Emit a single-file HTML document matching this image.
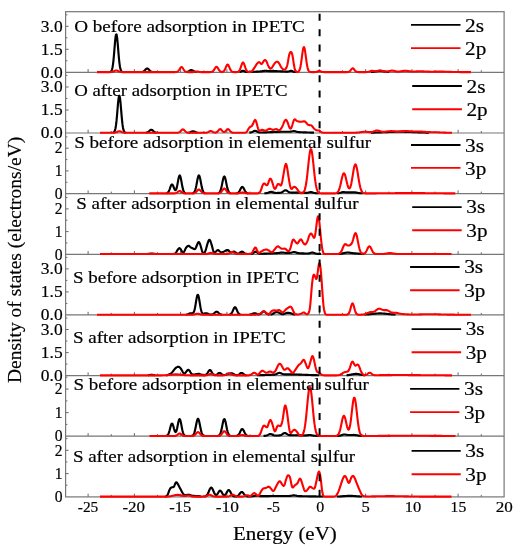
<!DOCTYPE html>
<html><head><meta charset="utf-8"><style>
html,body{margin:0;padding:0;background:#fff;width:522px;height:550px;overflow:hidden}
svg{display:block} text{font-family:"Liberation Serif", "Times New Roman", serif;fill:#000;stroke:#000;stroke-width:0.18px}
</style></head><body>
<svg width="522" height="550" viewBox="0 0 522 550">
<rect width="522" height="550" fill="#fff"/>
<path d="M88.1 72.3V69.1 M111.3 72.3V70.3 M134.4 72.3V69.1 M157.5 72.3V70.3 M180.6 72.3V69.1 M203.8 72.3V70.3 M226.9 72.3V69.1 M250.0 72.3V70.3 M273.1 72.3V69.1 M296.3 72.3V70.3 M319.4 72.3V69.1 M342.5 72.3V70.3 M365.6 72.3V69.1 M388.8 72.3V70.3 M411.9 72.3V69.1 M435.0 72.3V70.3 M458.1 72.3V69.1 M481.3 72.3V70.3 M65.6 60.8H67.4 M65.6 49.3H68.6 M65.6 37.8H67.4 M65.6 26.3H68.6 M65.6 14.8H67.4 M88.1 133.0V129.8 M111.3 133.0V131.0 M134.4 133.0V129.8 M157.5 133.0V131.0 M180.6 133.0V129.8 M203.8 133.0V131.0 M226.9 133.0V129.8 M250.0 133.0V131.0 M273.1 133.0V129.8 M296.3 133.0V131.0 M319.4 133.0V129.8 M342.5 133.0V131.0 M365.6 133.0V129.8 M388.8 133.0V131.0 M411.9 133.0V129.8 M435.0 133.0V131.0 M458.1 133.0V129.8 M481.3 133.0V131.0 M65.6 121.5H67.4 M65.6 110.0H68.6 M65.6 98.5H67.4 M65.6 87.0H68.6 M65.6 75.4H67.4 M88.1 193.6V190.4 M111.3 193.6V191.6 M134.4 193.6V190.4 M157.5 193.6V191.6 M180.6 193.6V190.4 M203.8 193.6V191.6 M226.9 193.6V190.4 M250.0 193.6V191.6 M273.1 193.6V190.4 M296.3 193.6V191.6 M319.4 193.6V190.4 M342.5 193.6V191.6 M365.6 193.6V190.4 M388.8 193.6V191.6 M411.9 193.6V190.4 M435.0 193.6V191.6 M458.1 193.6V190.4 M481.3 193.6V191.6 M65.6 182.3H67.4 M65.6 170.9H68.6 M65.6 159.6H67.4 M65.6 148.2H68.6 M65.6 136.9H67.4 M88.1 254.3V251.1 M111.3 254.3V252.3 M134.4 254.3V251.1 M157.5 254.3V252.3 M180.6 254.3V251.1 M203.8 254.3V252.3 M226.9 254.3V251.1 M250.0 254.3V252.3 M273.1 254.3V251.1 M296.3 254.3V252.3 M319.4 254.3V251.1 M342.5 254.3V252.3 M365.6 254.3V251.1 M388.8 254.3V252.3 M411.9 254.3V251.1 M435.0 254.3V252.3 M458.1 254.3V251.1 M481.3 254.3V252.3 M65.6 242.9H67.4 M65.6 231.6H68.6 M65.6 220.2H67.4 M65.6 208.9H68.6 M65.6 197.5H67.4 M88.1 314.9V311.8 M111.3 314.9V312.9 M134.4 314.9V311.8 M157.5 314.9V312.9 M180.6 314.9V311.8 M203.8 314.9V312.9 M226.9 314.9V311.8 M250.0 314.9V312.9 M273.1 314.9V311.8 M296.3 314.9V312.9 M319.4 314.9V311.8 M342.5 314.9V312.9 M365.6 314.9V311.8 M388.8 314.9V312.9 M411.9 314.9V311.8 M435.0 314.9V312.9 M458.1 314.9V311.8 M481.3 314.9V312.9 M65.6 303.4H67.4 M65.6 291.9H68.6 M65.6 280.4H67.4 M65.6 268.9H68.6 M65.6 257.4H67.4 M88.1 375.6V372.4 M111.3 375.6V373.6 M134.4 375.6V372.4 M157.5 375.6V373.6 M180.6 375.6V372.4 M203.8 375.6V373.6 M226.9 375.6V372.4 M250.0 375.6V373.6 M273.1 375.6V372.4 M296.3 375.6V373.6 M319.4 375.6V372.4 M342.5 375.6V373.6 M365.6 375.6V372.4 M388.8 375.6V373.6 M411.9 375.6V372.4 M435.0 375.6V373.6 M458.1 375.6V372.4 M481.3 375.6V373.6 M65.6 364.1H67.4 M65.6 352.6H68.6 M65.6 341.1H67.4 M65.6 329.5H68.6 M65.6 318.0H67.4 M88.1 436.2V433.1 M111.3 436.2V434.2 M134.4 436.2V433.1 M157.5 436.2V434.2 M180.6 436.2V433.1 M203.8 436.2V434.2 M226.9 436.2V433.1 M250.0 436.2V434.2 M273.1 436.2V433.1 M296.3 436.2V434.2 M319.4 436.2V433.1 M342.5 436.2V434.2 M365.6 436.2V433.1 M388.8 436.2V434.2 M411.9 436.2V433.1 M435.0 436.2V434.2 M458.1 436.2V433.1 M481.3 436.2V434.2 M65.6 424.4H67.4 M65.6 412.6H68.6 M65.6 400.9H67.4 M65.6 389.1H68.6 M65.6 377.2H67.4 M88.1 496.9V493.7 M111.3 496.9V494.9 M134.4 496.9V493.7 M157.5 496.9V494.9 M180.6 496.9V493.7 M203.8 496.9V494.9 M226.9 496.9V493.7 M250.0 496.9V494.9 M273.1 496.9V493.7 M296.3 496.9V494.9 M319.4 496.9V493.7 M342.5 496.9V494.9 M365.6 496.9V493.7 M388.8 496.9V494.9 M411.9 496.9V493.7 M435.0 496.9V494.9 M458.1 496.9V493.7 M481.3 496.9V494.9 M65.6 485.2H67.4 M65.6 473.6H68.6 M65.6 461.9H67.4 M65.6 450.3H68.6 M65.6 438.6H67.4" stroke="#666" stroke-width="1" fill="none"/>
<path d="M65.6 72.3H504.1 M65.6 133.0H504.1 M65.6 193.6H504.1 M65.6 254.3H504.1 M65.6 314.9H504.1 M65.6 375.6H504.1 M65.6 436.2H504.1" stroke="#777" stroke-width="1.2" fill="none"/>
<rect x="65.6" y="11.7" width="438.5" height="485.2" stroke="#777" stroke-width="1.2" fill="none"/>
<g fill="none" stroke-linejoin="round" stroke-linecap="butt">
<g stroke="#000" stroke-width="2.15"><polyline points="110.0,71.98 110.5,71.82 111.0,71.47 111.5,70.79 112.0,69.55 112.5,67.49 113.0,64.36 113.5,60.01 114.0,54.56 114.5,48.43 115.0,42.41 115.5,37.49 116.0,34.60 116.5,34.32 117.0,36.73 117.5,41.31 118.0,47.19 118.5,53.36 119.0,59.00 119.5,63.59 120.0,66.96 120.5,69.21 121.0,70.59 121.5,71.37 122.0,71.77 122.5,71.96 123.0,72.05"/><polyline points="141.5,72.04 142.0,71.98 142.5,71.87 143.0,71.70 143.5,71.45 144.0,71.10 144.5,70.65 145.0,70.13 145.5,69.59 146.0,69.09 146.5,68.71 147.0,68.52 147.5,68.54 148.0,68.78 148.5,69.19 149.0,69.70 149.5,70.24 150.0,70.75 150.5,71.18 151.0,71.51 151.5,71.74 152.0,71.90 152.5,71.99"/><polyline points="186.5,71.99 187.0,71.90 187.5,71.77 188.0,71.59 188.5,71.35 189.0,71.07 189.5,70.77 190.0,70.48 190.5,70.25 191.0,70.12 191.5,70.11 192.0,70.22 192.5,70.43 193.0,70.71 193.5,71.01 194.0,71.30 194.5,71.54 195.0,71.74 195.5,71.88 196.0,71.97 196.5,72.03"/><polyline points="239.5,71.99 240.0,71.90 240.5,71.76 241.0,71.55 241.5,71.30 242.0,71.06 242.5,70.87 243.0,70.80 243.5,70.86 244.0,71.04 244.5,71.27 245.0,71.51 245.5,71.70 246.0,71.84 246.5,71.91 247.0,71.95 247.5,71.96 248.0,71.96 248.5,71.95 249.0,71.94 249.5,71.93 250.0,71.91 250.5,71.90 251.0,71.88 251.5,71.87 252.0,71.85 252.5,71.83 253.0,71.81 253.5,71.80 254.0,71.78 254.5,71.76 255.0,71.73 255.5,71.71 256.0,71.69 256.5,71.67 257.0,71.64 257.5,71.62 258.0,71.59 258.5,71.57 259.0,71.54 259.5,71.51 260.0,71.47 260.5,71.43 261.0,71.38 261.5,71.32 262.0,71.25 262.5,71.16 263.0,71.07 263.5,70.98 264.0,70.90 264.5,70.84 265.0,70.80 265.5,70.79 266.0,70.81 266.5,70.86 267.0,70.91 267.5,70.96 268.0,71.01 268.5,71.04 269.0,71.07 269.5,71.09 270.0,71.09 270.5,71.10 271.0,71.10 271.5,71.10 272.0,71.10 272.5,71.10 273.0,71.10 273.5,71.11 274.0,71.11 274.5,71.12 275.0,71.13 275.5,71.14 276.0,71.15 276.5,71.17 277.0,71.18 277.5,71.20 278.0,71.22 278.5,71.24 279.0,71.26 279.5,71.28 280.0,71.30 280.5,71.32 281.0,71.35 281.5,71.37 282.0,71.39 282.5,71.42 283.0,71.44 283.5,71.47 284.0,71.49 284.5,71.52 285.0,71.54 285.5,71.57 286.0,71.59 286.5,71.61 287.0,71.61 287.5,71.60 288.0,71.55 288.5,71.46 289.0,71.32 289.5,71.14 290.0,70.96 290.5,70.84 291.0,70.80 291.5,70.87 292.0,71.04 292.5,71.25 293.0,71.47 293.5,71.65 294.0,71.78 294.5,71.86 295.0,71.91 295.5,71.94 296.0,71.96 296.5,71.97 297.0,71.99"/><polyline points="371.0,72.00 371.5,71.97 372.0,71.94 372.5,71.89 373.0,71.84 373.5,71.78 374.0,71.71 374.5,71.63 375.0,71.55 375.5,71.46 376.0,71.37 376.5,71.28 377.0,71.19 377.5,71.11 378.0,71.04 378.5,70.98 379.0,70.94 379.5,70.91 380.0,70.90 380.5,70.91 381.0,70.94 381.5,70.98 382.0,71.04 382.5,71.11 383.0,71.19 383.5,71.28 384.0,71.37 384.5,71.46 385.0,71.55 385.5,71.63 386.0,71.71 386.5,71.78 387.0,71.84 387.5,71.89 388.0,71.94 388.5,71.97 389.0,72.00"/></g>
<g stroke="#f00" stroke-width="2.1"><polyline points="97.0,72.10 97.5,72.10 98.0,72.10 98.5,72.10 99.0,72.10 99.5,72.10 100.0,72.10 100.5,72.10 101.0,72.10 101.5,72.10 102.0,72.10 102.5,72.10 103.0,72.10 103.5,72.10 104.0,72.10 104.5,72.10 105.0,72.10 105.5,72.10 106.0,72.10 106.5,72.10 107.0,72.10 107.5,72.10 108.0,72.10 108.5,72.10 109.0,72.10 109.5,72.09 110.0,72.08 110.5,72.07 111.0,72.04 111.5,71.99 112.0,71.91 112.5,71.80 113.0,71.64 113.5,71.44 114.0,71.21 114.5,70.97 115.0,70.75 115.5,70.57 116.0,70.47 116.5,70.46 117.0,70.54 117.5,70.71 118.0,70.93 118.5,71.17 119.0,71.40 119.5,71.61 120.0,71.77 120.5,71.89 121.0,71.98 121.5,72.03 122.0,72.06 122.5,72.08 123.0,72.09 123.5,72.10 124.0,72.10 124.5,72.10 125.0,72.10 125.5,72.10 126.0,72.10 126.5,72.10 127.0,72.10 127.5,72.10 128.0,72.10 128.5,72.10 129.0,72.10 129.5,72.10 130.0,72.10 130.5,72.10 131.0,72.10 131.5,72.10 132.0,72.10 132.5,72.10 133.0,72.10 133.5,72.10 134.0,72.10 134.5,72.10 135.0,72.10 135.5,72.10 136.0,72.10 136.5,72.10 137.0,72.10 137.5,72.10 138.0,72.10 138.5,72.10 139.0,72.10 139.5,72.10 140.0,72.10 140.5,72.10 141.0,72.10 141.5,72.10 142.0,72.10 142.5,72.10 143.0,72.10 143.5,72.10 144.0,72.10 144.5,72.10 145.0,72.10 145.5,72.10 146.0,72.10 146.5,72.10 147.0,72.10 147.5,72.10 148.0,72.10 148.5,72.10 149.0,72.10 149.5,72.10 150.0,72.10 150.5,72.10 151.0,72.10 151.5,72.10 152.0,72.10 152.5,72.10 153.0,72.10 153.5,72.10 154.0,72.10 154.5,72.10 155.0,72.10 155.5,72.10 156.0,72.10 156.5,72.10 157.0,72.10 157.5,72.10 158.0,72.10 158.5,72.10 159.0,72.10 159.5,72.10 160.0,72.10 160.5,72.10 161.0,72.10 161.5,72.10 162.0,72.10 162.5,72.10 163.0,72.10 163.5,72.10 164.0,72.10 164.5,72.10 165.0,72.10 165.5,72.10 166.0,72.10 166.5,72.10 167.0,72.10 167.5,72.10 168.0,72.10 168.5,72.10 169.0,72.10 169.5,72.10 170.0,72.10 170.5,72.10 171.0,72.10 171.5,72.10 172.0,72.10 172.5,72.10 173.0,72.10 173.5,72.10 174.0,72.10 174.5,72.10 175.0,72.09 175.5,72.07 176.0,72.03 176.5,71.96 177.0,71.82 177.5,71.59 178.0,71.23 178.5,70.72 179.0,70.05 179.5,69.28 180.0,68.47 180.5,67.76 181.0,67.27 181.5,67.09 182.0,67.27 182.5,67.76 183.0,68.47 183.5,69.28 184.0,70.05 184.5,70.72 185.0,71.23 185.5,71.59 186.0,71.82 186.5,71.96 187.0,72.03 187.5,72.07 188.0,72.09 188.5,72.10 189.0,72.10 189.5,72.10 190.0,72.10 190.5,72.10 191.0,72.10 191.5,72.10 192.0,72.10 192.5,72.09 193.0,72.08 193.5,72.05 194.0,72.01 194.5,71.94 195.0,71.84 195.5,71.74 196.0,71.63 196.5,71.56 197.0,71.53 197.5,71.56 198.0,71.63 198.5,71.74 199.0,71.84 199.5,71.94 200.0,72.01 200.5,72.05 201.0,72.08 201.5,72.09 202.0,72.10 202.5,72.10 203.0,72.10 203.5,72.10 204.0,72.10 204.5,72.10 205.0,72.10 205.5,72.10 206.0,72.10 206.5,72.10 207.0,72.10 207.5,72.10 208.0,72.10 208.5,72.10 209.0,72.10 209.5,72.10 210.0,72.09 210.5,72.07 211.0,72.03 211.5,71.95 212.0,71.81 212.5,71.56 213.0,71.18 213.5,70.64 214.0,69.94 214.5,69.11 215.0,68.26 215.5,67.51 216.0,66.99 216.5,66.80 217.0,66.99 217.5,67.51 218.0,68.26 218.5,69.11 219.0,69.94 219.5,70.64 220.0,71.18 220.5,71.56 221.0,71.79 221.5,71.92 222.0,71.95 222.5,71.89 223.0,71.73 223.5,71.42 224.0,70.92 224.5,70.20 225.0,69.25 225.5,68.10 226.0,66.89 226.5,65.78 227.0,64.96 227.5,64.59 228.0,64.75 228.5,65.41 229.0,66.42 229.5,67.62 230.0,68.81 230.5,69.85 231.0,70.67 231.5,71.25 232.0,71.63 232.5,71.86 233.0,71.98 233.5,72.05 234.0,72.08 234.5,72.09 235.0,72.10 235.5,72.10 236.0,72.09 236.5,72.08 237.0,72.04 237.5,71.97 238.0,71.83 238.5,71.57 239.0,71.13 239.5,70.43 240.0,69.45 240.5,68.16 241.0,66.67 241.5,65.12 242.0,63.75 242.5,62.80 243.0,62.46 243.5,62.80 244.0,63.75 244.5,65.12 245.0,66.67 245.5,68.16 246.0,69.45 246.5,70.43 247.0,71.13 247.5,71.57 248.0,71.83 248.5,71.97 249.0,72.04 249.5,72.07 250.0,72.07 250.5,72.00 251.0,71.86 251.5,71.63 252.0,71.24 252.5,70.64 253.0,69.90 253.5,69.12 254.0,68.35 254.5,67.59 255.0,66.81 255.5,66.02 256.0,65.22 256.5,64.43 257.0,63.72 257.5,63.13 258.0,62.63 258.5,62.29 259.0,62.17 259.5,62.34 260.0,62.73 260.5,63.24 261.0,63.73 261.5,63.97 262.0,63.74 262.5,63.05 263.0,62.18 263.5,61.36 264.0,60.65 264.5,60.13 265.0,59.93 265.5,60.12 266.0,60.65 266.5,61.47 267.0,62.57 267.5,63.85 268.0,65.11 268.5,66.23 269.0,67.18 269.5,67.94 270.0,68.47 270.5,68.68 271.0,68.55 271.5,68.13 272.0,67.53 272.5,66.78 273.0,65.93 273.5,65.07 274.0,64.27 274.5,63.55 275.0,62.93 275.5,62.45 276.0,62.10 276.5,61.86 277.0,61.72 277.5,61.75 278.0,62.02 278.5,62.52 279.0,63.19 279.5,64.03 280.0,65.00 280.5,65.95 281.0,66.81 281.5,67.56 282.0,68.22 282.5,68.77 283.0,69.24 283.5,69.57 284.0,69.69 284.5,69.62 285.0,69.41 285.5,69.03 286.0,68.42 286.5,67.49 287.0,66.11 287.5,64.14 288.0,61.48 288.5,58.41 289.0,55.68 289.5,53.75 290.0,52.61 290.5,52.06 291.0,51.96 291.5,52.39 292.0,53.57 292.5,55.62 293.0,58.52 293.5,61.85 294.0,65.05 294.5,67.75 295.0,69.75 295.5,71.00 296.0,71.64 296.5,71.92 297.0,72.03 297.5,72.01 298.0,71.85 298.5,71.53 299.0,70.98 299.5,70.05 300.0,68.60 300.5,66.48 301.0,63.64 301.5,60.18 302.0,56.35 302.5,52.59 303.0,49.46 303.5,47.47 304.0,46.99 304.5,48.10 305.0,50.60 305.5,54.05 306.0,57.90 306.5,61.63 307.0,64.86 307.5,67.41 308.0,69.25 308.5,70.48 309.0,71.24 309.5,71.67 310.0,71.90 310.5,72.01 311.0,72.06 311.5,72.09 312.0,72.09 312.5,72.10 313.0,72.10 313.5,72.10 314.0,72.09 314.5,72.09 315.0,72.07 315.5,72.03 316.0,71.95 316.5,71.84 317.0,71.67 317.5,71.46 318.0,71.25 318.5,71.07 319.0,70.97 319.5,70.98 320.0,71.10 320.5,71.29 321.0,71.50 321.5,71.70 322.0,71.86 322.5,71.97 323.0,72.04 323.5,72.07 324.0,72.09 324.5,72.10 325.0,72.10 325.5,72.10 326.0,72.10 326.5,72.10 327.0,72.10 327.5,72.10 328.0,72.10 328.5,72.10 329.0,72.10 329.5,72.10 330.0,72.10 330.5,72.10 331.0,72.10 331.5,72.10 332.0,72.10 332.5,72.10 333.0,72.10 333.5,72.10 334.0,72.10 334.5,72.10 335.0,72.10 335.5,72.10 336.0,72.10 336.5,72.10 337.0,72.10 337.5,72.10 338.0,72.10 338.5,72.10 339.0,72.10 339.5,72.10 340.0,72.10 340.5,72.10 341.0,72.10 341.5,72.10 342.0,72.10 342.5,72.10 343.0,72.10 343.5,72.10 344.0,72.10 344.5,72.10 345.0,72.10 345.5,72.10 346.0,72.10 346.5,72.10 347.0,72.09 347.5,72.07 348.0,72.03 348.5,71.93 349.0,71.77 349.5,71.48 350.0,71.06 350.5,70.49 351.0,69.82 351.5,69.14 352.0,68.60 352.5,68.31 353.0,68.34 353.5,68.69 354.0,69.27 354.5,69.95 355.0,70.61 355.5,71.15 356.0,71.55 356.5,71.81 357.0,71.96 357.5,72.04 358.0,72.07 358.5,72.09 359.0,72.10 359.5,72.10 360.0,72.10 360.5,72.10 361.0,72.10 361.5,72.10 362.0,72.10 362.5,72.10 363.0,72.10 363.5,72.10 364.0,72.10 364.5,72.10 365.0,72.10 365.5,72.09 366.0,72.08 366.5,72.07 367.0,72.04 367.5,71.99 368.0,71.91 368.5,71.81 369.0,71.68 369.5,71.51 370.0,71.33 370.5,71.15 371.0,71.00 371.5,70.89 372.0,70.83 372.5,70.84 373.0,70.91 373.5,71.01 374.0,71.11 374.5,71.21 375.0,71.27 375.5,71.28 376.0,71.25 376.5,71.17 377.0,71.07 377.5,70.94 378.0,70.81 378.5,70.69 379.0,70.60 379.5,70.54 380.0,70.52 380.5,70.54 381.0,70.60 381.5,70.70 382.0,70.82 382.5,70.96 383.0,71.11 383.5,71.26 384.0,71.39 384.5,71.50 385.0,71.59 385.5,71.64 386.0,71.66 386.5,71.65 387.0,71.61 387.5,71.53 388.0,71.43 388.5,71.31 389.0,71.17 389.5,71.04 390.0,70.91 390.5,70.79 391.0,70.70 391.5,70.64 392.0,70.62 392.5,70.64 393.0,70.69 393.5,70.77 394.0,70.88 394.5,71.01 395.0,71.14 395.5,71.26 396.0,71.38 396.5,71.47 397.0,71.54 397.5,71.59 398.0,71.61 398.5,71.61 399.0,71.58 399.5,71.53 400.0,71.47 400.5,71.39 401.0,71.31 401.5,71.22 402.0,71.13 402.5,71.05 403.0,70.97 403.5,70.91 404.0,70.86 404.5,70.83 405.0,70.81 405.5,70.81 406.0,70.83 406.5,70.87 407.0,70.91 407.5,70.97 408.0,71.04 408.5,71.11 409.0,71.19 409.5,71.26 410.0,71.32 410.5,71.38 411.0,71.43 411.5,71.47 412.0,71.50 412.5,71.52 413.0,71.53 413.5,71.53 414.0,71.52 414.5,71.51 415.0,71.49 415.5,71.47 416.0,71.44 416.5,71.42 417.0,71.39 417.5,71.37 418.0,71.35 418.5,71.33 419.0,71.32 419.5,71.31 420.0,71.30 420.5,71.30 421.0,71.31 421.5,71.31 422.0,71.33 422.5,71.34 423.0,71.36 423.5,71.39 424.0,71.41 424.5,71.44 425.0,71.47 425.5,71.49 426.0,71.52 426.5,71.55 427.0,71.57 427.5,71.60 428.0,71.62 428.5,71.64 429.0,71.65 429.5,71.67 430.0,71.68 430.5,71.69 431.0,71.69 431.5,71.69 432.0,71.69 432.5,71.69 433.0,71.69 433.5,71.68 434.0,71.67 434.5,71.67 435.0,71.66 435.5,71.65 436.0,71.64 436.5,71.63 437.0,71.62 437.5,71.62 438.0,71.61 438.5,71.61 439.0,71.60 439.5,71.60 440.0,71.60 440.5,71.60 441.0,71.61 441.5,71.61 442.0,71.62 442.5,71.63 443.0,71.64 443.5,71.65 444.0,71.66 444.5,71.68 445.0,71.69 445.5,71.71 446.0,71.73 446.5,71.74 447.0,71.76 447.5,71.78 448.0,71.80 448.5,71.82 449.0,71.84 449.5,71.85 450.0,71.87 450.5,71.89 451.0,71.91 451.5,71.92 452.0,71.94 452.5,71.95 453.0,71.97 453.5,71.98 454.0,71.99 454.5,72.00 455.0,72.01 455.5,72.02 456.0,72.03 456.5,72.04 457.0,72.05 457.5,72.05 458.0,72.06 458.5,72.07 459.0,72.07 459.5,72.07 460.0,72.08 460.5,72.08 461.0,72.08 461.5,72.09 462.0,72.09 462.5,72.09 463.0,72.09 463.5,72.09 464.0,72.09 464.5,72.10 465.0,72.10 465.5,72.10 466.0,72.10 466.5,72.10 467.0,72.10 467.5,72.10 468.0,72.10 468.5,72.10 469.0,72.10 469.5,72.10 470.0,72.10 470.5,72.10 471.0,72.10"/></g>
</g>
<g fill="none" stroke-linejoin="round" stroke-linecap="butt">
<g stroke="#000" stroke-width="2.15"><polyline points="113.0,132.64 113.5,132.48 114.0,132.14 114.5,131.47 115.0,130.25 115.5,128.24 116.0,125.17 116.5,120.92 117.0,115.57 117.5,109.58 118.0,103.69 118.5,98.87 119.0,96.04 119.5,95.77 120.0,98.12 120.5,102.61 121.0,108.36 121.5,114.41 122.0,119.93 122.5,124.42 123.0,127.72 123.5,129.92 124.0,131.27 124.5,132.03 125.0,132.43 125.5,132.61 126.0,132.70"/><polyline points="146.0,132.66 146.5,132.58 147.0,132.45 147.5,132.26 148.0,131.98 148.5,131.62 149.0,131.20 149.5,130.75 150.0,130.32 150.5,129.98 151.0,129.78 151.5,129.76 152.0,129.93 152.5,130.24 153.0,130.66 153.5,131.11 154.0,131.54 154.5,131.92 155.0,132.21 155.5,132.42 156.0,132.56 156.5,132.65"/><polyline points="188.5,132.63 189.0,132.55 189.5,132.43 190.0,132.26 190.5,132.06 191.0,131.84 191.5,131.62 192.0,131.43 192.5,131.30 193.0,131.25 193.5,131.30 194.0,131.43 194.5,131.62 195.0,131.84 195.5,132.06 196.0,132.26 196.5,132.43 197.0,132.55 197.5,132.63"/><polyline points="249.5,132.67 250.0,132.63 250.5,132.56 251.0,132.46 251.5,132.31 252.0,132.11 252.5,131.87 253.0,131.60 253.5,131.33 254.0,131.10 254.5,130.94 255.0,130.88 255.5,130.93 256.0,131.07 256.5,131.29 257.0,131.54 257.5,131.79 258.0,132.02 258.5,132.20 259.0,132.33 259.5,132.42 260.0,132.47 260.5,132.49 261.0,132.50 261.5,132.50 262.0,132.49 262.5,132.47 263.0,132.46 263.5,132.44 264.0,132.43 264.5,132.41 265.0,132.39 265.5,132.37 266.0,132.35 266.5,132.33 267.0,132.31 267.5,132.29 268.0,132.27 268.5,132.25 269.0,132.23 269.5,132.21 270.0,132.19 270.5,132.16 271.0,132.14 271.5,132.12 272.0,132.10 272.5,132.08 273.0,132.06 273.5,132.04 274.0,132.02 274.5,131.99 275.0,131.97 275.5,131.96 276.0,131.94 276.5,131.92 277.0,131.90 277.5,131.88 278.0,131.87 278.5,131.85 279.0,131.84 279.5,131.82 280.0,131.81 280.5,131.80 281.0,131.79 281.5,131.78 282.0,131.77 282.5,131.77 283.0,131.76 283.5,131.76 284.0,131.75 284.5,131.75 285.0,131.75 285.5,131.75 286.0,131.75 286.5,131.75 287.0,131.76 287.5,131.76 288.0,131.76 288.5,131.76 289.0,131.76 289.5,131.74 290.0,131.71 290.5,131.65 291.0,131.58 291.5,131.49 292.0,131.39 292.5,131.29 293.0,131.21 293.5,131.16 294.0,131.15 294.5,131.19 295.0,131.28 295.5,131.40 296.0,131.54 296.5,131.68 297.0,131.80 297.5,131.91 298.0,131.99 298.5,132.06 299.0,132.11 299.5,132.15 300.0,132.18 300.5,132.20 301.0,132.23 301.5,132.25 302.0,132.27 302.5,132.29 303.0,132.31 303.5,132.33 304.0,132.35 304.5,132.37 305.0,132.39 305.5,132.41 306.0,132.43 306.5,132.44 307.0,132.46 307.5,132.48 308.0,132.49 308.5,132.51 309.0,132.52 309.5,132.53 310.0,132.55 310.5,132.56 311.0,132.57 311.5,132.58 312.0,132.59 312.5,132.60 313.0,132.61 313.5,132.62 314.0,132.63"/><polyline points="371.0,132.63 371.5,132.62 372.0,132.61 372.5,132.60 373.0,132.59 373.5,132.58 374.0,132.57 374.5,132.56 375.0,132.55 375.5,132.53 376.0,132.52 376.5,132.51 377.0,132.49 377.5,132.48 378.0,132.46 378.5,132.44 379.0,132.43 379.5,132.41 380.0,132.39 380.5,132.37 381.0,132.35 381.5,132.33 382.0,132.31 382.5,132.29 383.0,132.27 383.5,132.25 384.0,132.23 384.5,132.21 385.0,132.19 385.5,132.17 386.0,132.14 386.5,132.12 387.0,132.10 387.5,132.08 388.0,132.06 388.5,132.04 389.0,132.02 389.5,132.00 390.0,131.98 390.5,131.96 391.0,131.94 391.5,131.92 392.0,131.90 392.5,131.88 393.0,131.87 393.5,131.85 394.0,131.84 394.5,131.82 395.0,131.81 395.5,131.80 396.0,131.79 396.5,131.78 397.0,131.77 397.5,131.77 398.0,131.76 398.5,131.76 399.0,131.75 399.5,131.75 400.0,131.75 400.5,131.75 401.0,131.75 401.5,131.76 402.0,131.76 402.5,131.77 403.0,131.77 403.5,131.78 404.0,131.79 404.5,131.80 405.0,131.81 405.5,131.82 406.0,131.84 406.5,131.85 407.0,131.87 407.5,131.88 408.0,131.90 408.5,131.92 409.0,131.94 409.5,131.96 410.0,131.98 410.5,132.00 411.0,132.02 411.5,132.04 412.0,132.06 412.5,132.08 413.0,132.10 413.5,132.12 414.0,132.14 414.5,132.17 415.0,132.19 415.5,132.21 416.0,132.23 416.5,132.25 417.0,132.27 417.5,132.29 418.0,132.31 418.5,132.33 419.0,132.35 419.5,132.37 420.0,132.39 420.5,132.41 421.0,132.43 421.5,132.44 422.0,132.46 422.5,132.48 423.0,132.49 423.5,132.51 424.0,132.52 424.5,132.53 425.0,132.55 425.5,132.56 426.0,132.57 426.5,132.58 427.0,132.59 427.5,132.60 428.0,132.61 428.5,132.62 429.0,132.63"/></g>
<g stroke="#f00" stroke-width="2.1"><polyline points="100.0,132.75 100.5,132.75 101.0,132.75 101.5,132.75 102.0,132.75 102.5,132.75 103.0,132.75 103.5,132.75 104.0,132.75 104.5,132.75 105.0,132.75 105.5,132.75 106.0,132.75 106.5,132.75 107.0,132.75 107.5,132.75 108.0,132.75 108.5,132.75 109.0,132.75 109.5,132.75 110.0,132.75 110.5,132.75 111.0,132.75 111.5,132.75 112.0,132.75 112.5,132.74 113.0,132.74 113.5,132.72 114.0,132.70 114.5,132.65 115.0,132.58 115.5,132.48 116.0,132.35 116.5,132.17 117.0,131.97 117.5,131.76 118.0,131.56 118.5,131.40 119.0,131.31 119.5,131.30 120.0,131.38 120.5,131.52 121.0,131.71 121.5,131.93 122.0,132.13 122.5,132.31 123.0,132.46 123.5,132.57 124.0,132.64 124.5,132.69 125.0,132.72 125.5,132.73 126.0,132.74 126.5,132.75 127.0,132.75 127.5,132.75 128.0,132.75 128.5,132.75 129.0,132.75 129.5,132.75 130.0,132.75 130.5,132.75 131.0,132.75 131.5,132.75 132.0,132.75 132.5,132.75 133.0,132.75 133.5,132.75 134.0,132.75 134.5,132.75 135.0,132.75 135.5,132.75 136.0,132.75 136.5,132.75 137.0,132.75 137.5,132.75 138.0,132.75 138.5,132.75 139.0,132.75 139.5,132.75 140.0,132.75 140.5,132.75 141.0,132.75 141.5,132.75 142.0,132.75 142.5,132.75 143.0,132.75 143.5,132.75 144.0,132.75 144.5,132.75 145.0,132.75 145.5,132.75 146.0,132.75 146.5,132.75 147.0,132.75 147.5,132.75 148.0,132.75 148.5,132.75 149.0,132.75 149.5,132.75 150.0,132.75 150.5,132.75 151.0,132.75 151.5,132.75 152.0,132.75 152.5,132.75 153.0,132.75 153.5,132.75 154.0,132.75 154.5,132.75 155.0,132.75 155.5,132.75 156.0,132.75 156.5,132.75 157.0,132.75 157.5,132.75 158.0,132.75 158.5,132.75 159.0,132.75 159.5,132.75 160.0,132.75 160.5,132.75 161.0,132.75 161.5,132.75 162.0,132.75 162.5,132.75 163.0,132.75 163.5,132.75 164.0,132.75 164.5,132.75 165.0,132.75 165.5,132.75 166.0,132.75 166.5,132.75 167.0,132.75 167.5,132.75 168.0,132.75 168.5,132.75 169.0,132.75 169.5,132.75 170.0,132.75 170.5,132.75 171.0,132.75 171.5,132.75 172.0,132.75 172.5,132.75 173.0,132.75 173.5,132.75 174.0,132.75 174.5,132.75 175.0,132.75 175.5,132.75 176.0,132.75 176.5,132.74 177.0,132.73 177.5,132.70 178.0,132.64 178.5,132.54 179.0,132.37 179.5,132.11 180.0,131.74 180.5,131.27 181.0,130.74 181.5,130.20 182.0,129.75 182.5,129.45 183.0,129.38 183.5,129.55 184.0,129.91 184.5,130.41 185.0,130.96 185.5,131.47 186.0,131.90 186.5,132.22 187.0,132.45 187.5,132.59 188.0,132.67 188.5,132.71 189.0,132.73 189.5,132.74 190.0,132.75 190.5,132.75 191.0,132.75 191.5,132.75 192.0,132.75 192.5,132.75 193.0,132.75 193.5,132.75 194.0,132.75 194.5,132.75 195.0,132.75 195.5,132.75 196.0,132.75 196.5,132.75 197.0,132.75 197.5,132.75 198.0,132.75 198.5,132.75 199.0,132.75 199.5,132.75 200.0,132.75 200.5,132.75 201.0,132.75 201.5,132.75 202.0,132.75 202.5,132.75 203.0,132.75 203.5,132.75 204.0,132.75 204.5,132.74 205.0,132.73 205.5,132.71 206.0,132.68 206.5,132.61 207.0,132.51 207.5,132.35 208.0,132.14 208.5,131.88 209.0,131.60 209.5,131.34 210.0,131.13 210.5,131.03 211.0,131.04 211.5,131.17 212.0,131.39 212.5,131.66 213.0,131.94 213.5,132.18 214.0,132.38 214.5,132.51 215.0,132.58 215.5,132.58 216.0,132.50 216.5,132.32 217.0,132.03 217.5,131.61 218.0,131.06 218.5,130.45 219.0,129.85 219.5,129.38 220.0,129.13 220.5,129.16 221.0,129.46 221.5,129.96 222.0,130.56 222.5,131.14 223.0,131.62 223.5,131.94 224.0,132.06 224.5,131.98 225.0,131.70 225.5,131.25 226.0,130.68 226.5,130.08 227.0,129.54 227.5,129.20 228.0,129.11 228.5,129.31 229.0,129.74 229.5,130.32 230.0,130.94 230.5,131.51 231.0,131.96 231.5,132.29 232.0,132.50 232.5,132.62 233.0,132.69 233.5,132.73 234.0,132.74 234.5,132.75 235.0,132.75 235.5,132.75 236.0,132.75 236.5,132.75 237.0,132.75 237.5,132.75 238.0,132.75 238.5,132.75 239.0,132.75 239.5,132.75 240.0,132.75 240.5,132.75 241.0,132.75 241.5,132.75 242.0,132.75 242.5,132.75 243.0,132.75 243.5,132.75 244.0,132.75 244.5,132.74 245.0,132.71 245.5,132.59 246.0,132.36 246.5,131.96 247.0,131.35 247.5,130.58 248.0,129.73 248.5,128.85 249.0,128.03 249.5,127.40 250.0,126.99 250.5,126.72 251.0,126.49 251.5,126.17 252.0,125.65 252.5,124.86 253.0,123.83 253.5,122.68 254.0,121.46 254.5,120.41 255.0,119.93 255.5,120.23 256.0,121.19 256.5,122.65 257.0,124.52 257.5,126.53 258.0,128.32 258.5,129.59 259.0,130.29 259.5,130.52 260.0,130.48 260.5,130.34 261.0,130.17 261.5,130.00 262.0,129.87 262.5,129.84 263.0,129.94 263.5,130.13 264.0,130.33 264.5,130.50 265.0,130.63 265.5,130.67 266.0,130.58 266.5,130.34 267.0,130.02 267.5,129.69 268.0,129.39 268.5,129.11 269.0,128.88 269.5,128.75 270.0,128.76 270.5,128.90 271.0,129.11 271.5,129.35 272.0,129.59 272.5,129.78 273.0,129.86 273.5,129.81 274.0,129.67 274.5,129.49 275.0,129.33 275.5,129.19 276.0,129.13 276.5,129.17 277.0,129.35 277.5,129.59 278.0,129.85 278.5,130.11 279.0,130.28 279.5,130.26 280.0,129.96 280.5,129.41 281.0,128.72 281.5,127.92 282.0,127.02 282.5,125.98 283.0,124.79 283.5,123.51 284.0,122.28 284.5,121.23 285.0,120.38 285.5,119.85 286.0,119.78 286.5,120.22 287.0,121.06 287.5,122.15 288.0,123.49 288.5,125.03 289.0,126.51 289.5,127.66 290.0,128.41 290.5,128.70 291.0,128.40 291.5,127.50 292.0,126.17 292.5,124.50 293.0,122.67 293.5,121.06 294.0,119.93 294.5,119.35 295.0,119.32 295.5,119.69 296.0,120.19 296.5,120.62 297.0,120.96 297.5,121.20 298.0,121.37 298.5,121.49 299.0,121.58 299.5,121.66 300.0,121.71 300.5,121.73 301.0,121.72 301.5,121.67 302.0,121.60 302.5,121.51 303.0,121.42 303.5,121.34 304.0,121.30 304.5,121.36 305.0,121.58 305.5,121.97 306.0,122.46 306.5,123.05 307.0,123.70 307.5,124.32 308.0,124.76 308.5,124.99 309.0,125.08 309.5,125.13 310.0,125.18 310.5,125.23 311.0,125.34 311.5,125.57 312.0,126.01 312.5,126.60 313.0,127.24 313.5,127.89 314.0,128.48 314.5,128.99 315.0,129.40 315.5,129.74 316.0,130.03 316.5,130.25 317.0,130.38 317.5,130.43 318.0,130.45 318.5,130.46 319.0,130.51 319.5,130.70 320.0,131.05 320.5,131.50 321.0,131.92 321.5,132.23 322.0,132.43 322.5,132.57 323.0,132.67 323.5,132.72 324.0,132.74 324.5,132.75 325.0,132.75 325.5,132.75 326.0,132.75 326.5,132.75 327.0,132.75 327.5,132.75 328.0,132.75 328.5,132.75 329.0,132.75 329.5,132.75 330.0,132.75 330.5,132.75 331.0,132.75 331.5,132.75 332.0,132.75 332.5,132.75 333.0,132.75 333.5,132.75 334.0,132.75 334.5,132.75 335.0,132.75 335.5,132.75 336.0,132.75 336.5,132.75 337.0,132.75 337.5,132.75 338.0,132.75 338.5,132.75 339.0,132.75 339.5,132.75 340.0,132.75 340.5,132.75 341.0,132.75 341.5,132.75 342.0,132.75 342.5,132.75 343.0,132.75 343.5,132.75 344.0,132.75 344.5,132.75 345.0,132.75 345.5,132.75 346.0,132.75 346.5,132.75 347.0,132.75 347.5,132.75 348.0,132.75 348.5,132.75 349.0,132.75 349.5,132.75 350.0,132.75 350.5,132.75 351.0,132.75 351.5,132.75 352.0,132.74 352.5,132.74 353.0,132.74 353.5,132.73 354.0,132.73 354.5,132.72 355.0,132.70 355.5,132.69 356.0,132.67 356.5,132.64 357.0,132.61 357.5,132.57 358.0,132.53 358.5,132.48 359.0,132.42 359.5,132.36 360.0,132.29 360.5,132.22 361.0,132.14 361.5,132.07 362.0,132.00 362.5,131.93 363.0,131.87 363.5,131.82 364.0,131.79 364.5,131.77 365.0,131.76 365.5,131.76 366.0,131.79 366.5,131.82 367.0,131.86 367.5,131.92 368.0,131.97 368.5,132.03 369.0,132.07 369.5,132.11 370.0,132.13 370.5,132.13 371.0,132.11 371.5,132.05 372.0,131.96 372.5,131.83 373.0,131.68 373.5,131.50 374.0,131.30 374.5,131.10 375.0,130.91 375.5,130.74 376.0,130.60 376.5,130.51 377.0,130.48 377.5,130.50 378.0,130.57 378.5,130.68 379.0,130.83 379.5,131.00 380.0,131.18 380.5,131.36 381.0,131.51 381.5,131.65 382.0,131.75 382.5,131.82 383.0,131.86 383.5,131.86 384.0,131.84 384.5,131.80 385.0,131.75 385.5,131.68 386.0,131.60 386.5,131.53 387.0,131.45 387.5,131.38 388.0,131.31 388.5,131.26 389.0,131.21 389.5,131.18 390.0,131.16 390.5,131.15 391.0,131.15 391.5,131.16 392.0,131.19 392.5,131.22 393.0,131.25 393.5,131.29 394.0,131.34 394.5,131.38 395.0,131.41 395.5,131.45 396.0,131.47 396.5,131.49 397.0,131.50 397.5,131.50 398.0,131.49 398.5,131.48 399.0,131.45 399.5,131.42 400.0,131.38 400.5,131.34 401.0,131.30 401.5,131.25 402.0,131.21 402.5,131.17 403.0,131.13 403.5,131.10 404.0,131.08 404.5,131.06 405.0,131.05 405.5,131.05 406.0,131.06 406.5,131.07 407.0,131.10 407.5,131.12 408.0,131.16 408.5,131.19 409.0,131.23 409.5,131.28 410.0,131.32 410.5,131.36 411.0,131.40 411.5,131.43 412.0,131.46 412.5,131.49 413.0,131.51 413.5,131.53 414.0,131.54 414.5,131.55 415.0,131.56 415.5,131.56 416.0,131.55 416.5,131.55 417.0,131.55 417.5,131.54 418.0,131.54 418.5,131.54 419.0,131.54 419.5,131.54 420.0,131.55 420.5,131.57 421.0,131.58 421.5,131.60 422.0,131.63 422.5,131.66 423.0,131.69 423.5,131.73 424.0,131.77 424.5,131.81 425.0,131.85 425.5,131.89 426.0,131.93 426.5,131.96 427.0,132.00 427.5,132.03 428.0,132.06 428.5,132.09 429.0,132.11 429.5,132.14 430.0,132.15 430.5,132.17 431.0,132.18 431.5,132.19 432.0,132.20 432.5,132.21 433.0,132.22 433.5,132.22 434.0,132.23 434.5,132.24 435.0,132.25 435.5,132.26 436.0,132.27 436.5,132.29 437.0,132.30 437.5,132.32 438.0,132.34 438.5,132.36 439.0,132.38 439.5,132.40 440.0,132.43 440.5,132.45 441.0,132.47 441.5,132.50 442.0,132.52 442.5,132.54 443.0,132.56 443.5,132.58 444.0,132.60 444.5,132.62 445.0,132.64 445.5,132.65 446.0,132.67 446.5,132.68 447.0,132.69 447.5,132.70 448.0,132.71 448.5,132.71 449.0,132.72 449.5,132.73 450.0,132.73 450.5,132.73 451.0,132.74 451.5,132.74 452.0,132.74"/></g>
</g>
<g fill="none" stroke-linejoin="round" stroke-linecap="butt">
<g stroke="#000" stroke-width="2.15"><polyline points="166.3,193.30 166.8,193.19 167.3,192.98 167.8,192.62 168.3,192.05 168.8,191.22 169.3,190.12 169.8,188.80 170.3,187.37 170.8,186.03 171.3,184.99 171.8,184.45 172.3,184.51 172.8,185.14 173.3,186.22 173.8,187.51 174.3,188.76 174.8,189.72 175.3,190.18 175.8,189.99 176.3,189.08 176.8,187.42 177.3,185.11 177.8,182.40 178.3,179.64 178.8,177.30 179.3,175.79 179.8,175.43 180.3,176.28 180.8,178.18 181.3,180.78 181.8,183.63 182.3,186.34 182.8,188.64 183.3,190.41 183.8,191.65 184.3,192.44 184.8,192.91 185.3,193.17 185.8,193.30"/><polyline points="192.3,193.32 192.8,193.23 193.3,193.04 193.8,192.70 194.3,192.12 194.8,191.20 195.3,189.84 195.8,187.99 196.3,185.67 196.8,183.03 197.3,180.33 197.8,177.93 198.3,176.19 198.8,175.42 199.3,175.76 199.8,177.13 200.3,179.31 200.8,181.94 201.3,184.64 201.8,187.11 202.3,189.16 202.8,190.71 203.3,191.80 203.8,192.50 204.3,192.93 204.8,193.17 205.3,193.29"/><polyline points="217.8,193.31 218.3,193.21 218.8,193.01 219.3,192.65 219.8,192.05 220.3,191.10 220.8,189.72 221.3,187.88 221.8,185.62 222.3,183.09 222.8,180.57 223.3,178.40 223.8,176.92 224.3,176.40 224.8,176.92 225.3,178.40 225.8,180.57 226.3,183.09 226.8,185.62 227.3,187.88 227.8,189.72 228.3,191.10 228.8,192.05 229.3,192.65 229.8,193.01 230.3,193.21 230.8,193.31"/><polyline points="236.3,193.33 236.8,193.25 237.3,193.11 237.8,192.88 238.3,192.52 238.8,191.99 239.3,191.29 239.8,190.42 240.3,189.46 240.8,188.49 241.3,187.66 241.8,187.10 242.3,186.90 242.8,187.10 243.3,187.66 243.8,188.49 244.3,189.46 244.8,190.42 245.3,191.29 245.8,191.99 246.3,192.52 246.8,192.88 247.3,193.11 247.8,193.25 248.3,193.32"/><polyline points="264.3,193.28 264.8,193.27 265.3,193.24 265.8,193.21 266.3,193.15 266.8,193.08 267.3,192.96 267.8,192.82 268.3,192.64 268.8,192.44 269.3,192.25 269.8,192.07 270.3,191.95 270.8,191.90 271.3,191.92 271.8,192.02 272.3,192.16 272.8,192.33 273.3,192.51 273.8,192.66 274.3,192.78 274.8,192.86 275.3,192.91 275.8,192.94 276.3,192.95 276.8,192.95 277.3,192.94 277.8,192.93 278.3,192.91 278.8,192.89 279.3,192.86 279.8,192.82 280.3,192.76 280.8,192.67 281.3,192.54 281.8,192.35 282.3,192.09 282.8,191.76 283.3,191.39 283.8,191.00 284.3,190.64 284.8,190.37 285.3,190.22 285.8,190.22 286.3,190.37 286.8,190.65 287.3,190.99 287.8,191.36 288.3,191.70 288.8,191.99 289.3,192.22 289.8,192.38 290.3,192.48 290.8,192.54 291.3,192.58 291.8,192.60 292.3,192.61 292.8,192.61 293.3,192.61 293.8,192.62 294.3,192.62 294.8,192.63 295.3,192.63 295.8,192.64 296.3,192.65 296.8,192.66 297.3,192.67 297.8,192.68 298.3,192.69 298.8,192.70 299.3,192.71 299.8,192.73 300.3,192.74 300.8,192.75 301.3,192.77 301.8,192.78 302.3,192.80 302.8,192.82 303.3,192.83 303.8,192.85 304.3,192.86 304.8,192.87 305.3,192.88 305.8,192.88 306.3,192.86 306.8,192.83 307.3,192.77 307.8,192.69 308.3,192.58 308.8,192.45 309.3,192.32 309.8,192.20 310.3,192.12 310.8,192.10 311.3,192.13 311.8,192.22 312.3,192.36 312.8,192.51 313.3,192.67 313.8,192.82 314.3,192.95 314.8,193.04 315.3,193.12 315.8,193.17 316.3,193.20 316.8,193.22 317.3,193.24 317.8,193.25 318.3,193.26 318.8,193.27 319.3,193.28"/><polyline points="336.8,193.30 337.3,193.28 337.8,193.24 338.3,193.20 338.8,193.14 339.3,193.05 339.8,192.94 340.3,192.81 340.8,192.66 341.3,192.50 341.8,192.34 342.3,192.21 342.8,192.12 343.3,192.08 343.8,192.08 344.3,192.12 344.8,192.19 345.3,192.26 345.8,192.33 346.3,192.38 346.8,192.41 347.3,192.43 347.8,192.43 348.3,192.43 348.8,192.42 349.3,192.41 349.8,192.40 350.3,192.40 350.8,192.39 351.3,192.38 351.8,192.37 352.3,192.36 352.8,192.35 353.3,192.34 353.8,192.34 354.3,192.35 354.8,192.38 355.3,192.43 355.8,192.50 356.3,192.59 356.8,192.68 357.3,192.77 357.8,192.86 358.3,192.94 358.8,193.01 359.3,193.07 359.8,193.12 360.3,193.17 360.8,193.20 361.3,193.23 361.8,193.26 362.3,193.28 362.8,193.30"/></g>
<g stroke="#f00" stroke-width="2.1"><polyline points="149.3,193.40 149.8,193.40 150.3,193.40 150.8,193.40 151.3,193.40 151.8,193.40 152.3,193.40 152.8,193.40 153.3,193.40 153.8,193.40 154.3,193.40 154.8,193.40 155.3,193.40 155.8,193.40 156.3,193.40 156.8,193.40 157.3,193.40 157.8,193.40 158.3,193.40 158.8,193.40 159.3,193.40 159.8,193.40 160.3,193.40 160.8,193.40 161.3,193.40 161.8,193.40 162.3,193.40 162.8,193.40 163.3,193.40 163.8,193.40 164.3,193.40 164.8,193.40 165.3,193.40 165.8,193.40 166.3,193.40 166.8,193.40 167.3,193.40 167.8,193.40 168.3,193.40 168.8,193.40 169.3,193.40 169.8,193.40 170.3,193.40 170.8,193.40 171.3,193.40 171.8,193.40 172.3,193.40 172.8,193.40 173.3,193.39 173.8,193.38 174.3,193.36 174.8,193.32 175.3,193.25 175.8,193.13 176.3,192.94 176.8,192.68 177.3,192.34 177.8,191.96 178.3,191.58 178.8,191.25 179.3,191.05 179.8,190.99 180.3,191.11 180.8,191.37 181.3,191.73 181.8,192.12 182.3,192.49 182.8,192.79 183.3,193.02 183.8,193.18 184.3,193.28 184.8,193.34 185.3,193.37 185.8,193.39 186.3,193.40 186.8,193.40 187.3,193.40 187.8,193.40 188.3,193.40 188.8,193.40 189.3,193.40 189.8,193.40 190.3,193.40 190.8,193.40 191.3,193.40 191.8,193.39 192.3,193.39 192.8,193.37 193.3,193.33 193.8,193.27 194.3,193.15 194.8,192.96 195.3,192.68 195.8,192.29 196.3,191.79 196.8,191.22 197.3,190.62 197.8,190.09 198.3,189.71 198.8,189.54 199.3,189.61 199.8,189.92 200.3,190.40 200.8,190.98 201.3,191.57 201.8,192.10 202.3,192.53 202.8,192.86 203.3,193.09 203.8,193.23 204.3,193.31 204.8,193.36 205.3,193.38 205.8,193.39 206.3,193.40 206.8,193.40 207.3,193.40 207.8,193.40 208.3,193.40 208.8,193.40 209.3,193.40 209.8,193.40 210.3,193.40 210.8,193.40 211.3,193.40 211.8,193.40 212.3,193.40 212.8,193.40 213.3,193.40 213.8,193.40 214.3,193.40 214.8,193.40 215.3,193.40 215.8,193.40 216.3,193.40 216.8,193.40 217.3,193.39 217.8,193.38 218.3,193.35 218.8,193.30 219.3,193.21 219.8,193.05 220.3,192.79 220.8,192.41 221.3,191.89 221.8,191.25 222.3,190.52 222.8,189.79 223.3,189.15 223.8,188.72 224.3,188.56 224.8,188.72 225.3,189.15 225.8,189.79 226.3,190.52 226.8,191.25 227.3,191.89 227.8,192.41 228.3,192.79 228.8,193.05 229.3,193.21 229.8,193.30 230.3,193.35 230.8,193.38 231.3,193.39 231.8,193.40 232.3,193.40 232.8,193.40 233.3,193.40 233.8,193.40 234.3,193.40 234.8,193.40 235.3,193.40 235.8,193.39 236.3,193.39 236.8,193.37 237.3,193.35 237.8,193.31 238.3,193.25 238.8,193.17 239.3,193.06 239.8,192.93 240.3,192.79 240.8,192.66 241.3,192.54 241.8,192.46 242.3,192.43 242.8,192.46 243.3,192.54 243.8,192.66 244.3,192.79 244.8,192.93 245.3,193.06 245.8,193.17 246.3,193.25 246.8,193.31 247.3,193.35 247.8,193.37 248.3,193.39 248.8,193.39 249.3,193.40 249.8,193.40 250.3,193.40 250.8,193.40 251.3,193.40 251.8,193.40 252.3,193.40 252.8,193.40 253.3,193.40 253.8,193.40 254.3,193.40 254.8,193.40 255.3,193.40 255.8,193.40 256.3,193.40 256.8,193.40 257.3,193.40 257.8,193.38 258.3,193.29 258.8,193.08 259.3,192.74 259.8,192.26 260.3,191.57 260.8,190.58 261.3,189.24 261.8,187.69 262.3,186.19 262.8,184.96 263.3,184.05 263.8,183.53 264.3,183.47 264.8,183.76 265.3,184.21 265.8,184.69 266.3,185.11 266.8,185.30 267.3,184.99 267.8,184.08 268.3,182.80 268.8,181.43 269.3,180.14 269.8,179.11 270.3,178.63 270.8,178.87 271.3,179.66 271.8,180.84 272.3,182.34 272.8,184.04 273.3,185.72 273.8,187.20 274.3,188.31 274.8,188.90 275.3,188.77 275.8,187.98 276.3,186.87 276.8,185.81 277.3,184.91 277.8,184.24 278.3,183.94 278.8,184.02 279.3,184.38 279.8,184.87 280.3,185.37 280.8,185.51 281.3,184.89 281.8,183.41 282.3,181.27 282.8,178.63 283.3,175.67 283.8,172.59 284.3,169.64 284.8,167.03 285.3,164.96 285.8,163.91 286.3,164.28 286.8,165.95 287.3,168.59 287.8,171.88 288.3,175.30 288.8,178.60 289.3,181.70 289.8,184.40 290.3,186.51 290.8,188.01 291.3,188.83 291.8,188.88 292.3,188.40 292.8,187.80 293.3,187.29 293.8,186.92 294.3,186.75 294.8,186.83 295.3,187.12 295.8,187.55 296.3,188.09 296.8,188.72 297.3,189.42 297.8,190.15 298.3,190.88 298.8,191.56 299.3,192.13 299.8,192.56 300.3,192.86 300.8,193.06 301.3,193.18 301.8,193.20 302.3,193.08 302.8,192.83 303.3,192.44 303.8,191.84 304.3,190.94 304.8,189.65 305.3,187.87 305.8,185.52 306.3,182.52 306.8,178.89 307.3,174.67 307.8,170.00 308.3,165.14 308.8,160.37 309.3,156.06 309.8,152.56 310.3,150.19 310.8,149.18 311.3,149.62 311.8,151.46 312.3,154.54 312.8,158.57 313.3,163.20 313.8,168.07 314.3,172.84 314.8,177.26 315.3,181.15 315.8,184.40 316.3,187.00 316.8,189.00 317.3,190.47 317.8,191.52 318.3,192.23 318.8,192.69 319.3,192.99 319.8,193.17 320.3,193.27 320.8,193.33 321.3,193.37 321.8,193.38 322.3,193.39 322.8,193.40 323.3,193.40 323.8,193.40 324.3,193.40 324.8,193.40 325.3,193.40 325.8,193.40 326.3,193.40 326.8,193.40 327.3,193.40 327.8,193.40 328.3,193.40 328.8,193.40 329.3,193.40 329.8,193.40 330.3,193.40 330.8,193.40 331.3,193.40 331.8,193.40 332.3,193.40 332.8,193.40 333.3,193.39 333.8,193.39 334.3,193.37 334.8,193.35 335.3,193.30 335.8,193.21 336.3,193.07 336.8,192.85 337.3,192.50 337.8,191.98 338.3,191.25 338.8,190.25 339.3,188.95 339.8,187.33 340.3,185.41 340.8,183.26 341.3,180.97 341.8,178.70 342.3,176.63 342.8,174.93 343.3,173.78 343.8,173.28 344.3,173.49 344.8,174.38 345.3,175.86 345.8,177.78 346.3,179.93 346.8,182.14 347.3,184.20 347.8,185.97 348.3,187.31 348.8,188.15 349.3,188.42 349.8,188.09 350.3,187.15 350.8,185.59 351.3,183.48 351.8,180.88 352.3,177.93 352.8,174.80 353.3,171.71 353.8,168.90 354.3,166.62 354.8,165.07 355.3,164.41 355.8,164.70 356.3,165.91 356.8,167.93 357.3,170.56 357.8,173.60 358.3,176.79 358.8,179.92 359.3,182.81 359.8,185.36 360.3,187.49 360.8,189.19 361.3,190.50 361.8,191.47 362.3,192.15 362.8,192.61 363.3,192.92 363.8,193.11 364.3,193.23 364.8,193.29 365.3,193.33 365.8,193.35 366.3,193.36 366.8,193.37 367.3,193.37 367.8,193.37 368.3,193.37 368.8,193.36 369.3,193.36 369.8,193.36 370.3,193.36 370.8,193.36 371.3,193.35 371.8,193.35 372.3,193.35 372.8,193.35 373.3,193.34 373.8,193.34 374.3,193.34 374.8,193.34 375.3,193.33 375.8,193.33 376.3,193.33 376.8,193.32 377.3,193.32 377.8,193.32 378.3,193.31 378.8,193.31 379.3,193.31 379.8,193.30 380.3,193.30 380.8,193.30 381.3,193.29 381.8,193.29 382.3,193.28 382.8,193.28 383.3,193.28 383.8,193.27 384.3,193.27 384.8,193.26 385.3,193.26 385.8,193.26 386.3,193.25 386.8,193.25 387.3,193.24 387.8,193.24 388.3,193.23 388.8,193.23 389.3,193.22 389.8,193.22 390.3,193.22 390.8,193.21 391.3,193.21 391.8,193.20 392.3,193.20 392.8,193.19 393.3,193.19 393.8,193.18 394.3,193.18 394.8,193.18 395.3,193.17 395.8,193.17 396.3,193.16 396.8,193.16 397.3,193.15 397.8,193.15 398.3,193.15 398.8,193.14 399.3,193.14 399.8,193.14 400.3,193.13 400.8,193.13 401.3,193.13 401.8,193.12 402.3,193.12 402.8,193.12 403.3,193.12 403.8,193.11 404.3,193.11 404.8,193.11 405.3,193.11 405.8,193.11 406.3,193.11 406.8,193.10 407.3,193.10 407.8,193.10 408.3,193.10 408.8,193.10 409.3,193.10 409.8,193.10 410.3,193.10 410.8,193.10 411.3,193.10 411.8,193.10 412.3,193.10 412.8,193.10 413.3,193.10 413.8,193.11 414.3,193.11 414.8,193.11 415.3,193.11 415.8,193.11 416.3,193.11 416.8,193.12 417.3,193.12 417.8,193.12 418.3,193.12 418.8,193.13 419.3,193.13 419.8,193.13 420.3,193.14 420.8,193.14 421.3,193.14 421.8,193.15 422.3,193.15 422.8,193.16 423.3,193.16 423.8,193.16 424.3,193.17 424.8,193.17 425.3,193.18 425.8,193.18 426.3,193.18 426.8,193.19 427.3,193.19 427.8,193.20 428.3,193.20 428.8,193.21 429.3,193.21 429.8,193.22 430.3,193.22 430.8,193.23 431.3,193.23 431.8,193.23 432.3,193.24 432.8,193.24 433.3,193.25 433.8,193.25 434.3,193.26 434.8,193.26 435.3,193.27 435.8,193.27 436.3,193.27 436.8,193.28 437.3,193.28 437.8,193.29 438.3,193.29 438.8,193.29 439.3,193.30 439.8,193.30 440.3,193.30 440.8,193.31 441.3,193.31 441.8,193.32 442.3,193.32 442.8,193.32 443.3,193.32 443.8,193.33 444.3,193.33 444.8,193.33 445.3,193.34 445.8,193.34 446.3,193.34 446.8,193.34 447.3,193.35 447.8,193.35 448.3,193.35 448.8,193.35 449.3,193.36 449.8,193.36 450.3,193.36 450.8,193.36 451.3,193.36 451.8,193.37 452.3,193.37 452.8,193.37 453.3,193.37 453.8,193.37 454.3,193.37 454.8,193.38 455.3,193.38"/></g>
</g>
<g fill="none" stroke-linejoin="round" stroke-linecap="butt">
<g stroke="#000" stroke-width="2.15"><polyline points="147.5,253.96 148.0,253.91 148.5,253.85 149.0,253.77 149.5,253.69 150.0,253.60 150.5,253.53 151.0,253.48 151.5,253.47 152.0,253.48 152.5,253.53 153.0,253.60 153.5,253.69 154.0,253.77 154.5,253.85 155.0,253.91 155.5,253.96"/><polyline points="173.5,253.96 174.0,253.83 174.5,253.74 175.0,253.64 175.5,253.38 176.0,252.78 176.5,251.86 177.0,250.88 177.5,250.03 178.0,249.31 178.5,248.70 179.0,248.28 179.5,248.17 180.0,248.43 180.5,249.01 181.0,249.79 181.5,250.68 182.0,251.60 182.5,252.35 183.0,252.65 183.5,252.44 184.0,251.87 184.5,251.01 185.0,249.91 185.5,248.79 186.0,247.90 186.5,247.22 187.0,246.67 187.5,246.23 188.0,245.92 188.5,245.79 189.0,245.90 189.5,246.26 190.0,246.74 190.5,247.17 191.0,247.51 191.5,247.77 192.0,248.01 192.5,248.26 193.0,248.52 193.5,248.77 194.0,248.99 194.5,249.11 195.0,249.00 195.5,248.47 196.0,247.49 196.5,246.27 197.0,245.02 197.5,243.80 198.0,242.75 198.5,242.12 199.0,242.16 199.5,242.84 200.0,243.98 200.5,245.43 201.0,247.16 201.5,249.04 202.0,250.82 202.5,252.24 203.0,253.04 203.5,253.20 204.0,252.96 204.5,252.51 205.0,251.81 205.5,250.68 206.0,249.07 206.5,247.20 207.0,245.36 207.5,243.70 208.0,242.19 208.5,240.88 209.0,240.00 209.5,239.77 210.0,240.26 210.5,241.33 211.0,242.74 211.5,244.36 212.0,246.16 212.5,248.07 213.0,249.96 213.5,251.54 214.0,252.47 214.5,252.64 215.0,252.39 215.5,251.98 216.0,251.53 216.5,251.04 217.0,250.56 217.5,250.18 218.0,250.05 218.5,250.25 219.0,250.70 219.5,251.21 220.0,251.64 220.5,251.97 221.0,252.19 221.5,252.28 222.0,252.24 222.5,252.12 223.0,251.94 223.5,251.75 224.0,251.54 224.5,251.30 225.0,251.04 225.5,250.75 226.0,250.46 226.5,250.21 227.0,250.02 227.5,249.96 228.0,250.09 228.5,250.46 229.0,250.99 229.5,251.54 230.0,251.97 230.5,252.28 231.0,252.48 231.5,252.56 232.0,252.43 232.5,252.14 233.0,251.85 233.5,251.67 234.0,251.65 234.5,251.80 235.0,252.09 235.5,252.45 236.0,252.83 236.5,253.16 237.0,253.41 237.5,253.55 238.0,253.58 238.5,253.48 239.0,253.27 239.5,252.97 240.0,252.60 240.5,252.23 241.0,251.90 241.5,251.70 242.0,251.64 242.5,251.76 243.0,252.02 243.5,252.37 244.0,252.75 244.5,253.11 245.0,253.41 245.5,253.64 246.0,253.79 246.5,253.89 247.0,253.94"/><polyline points="250.5,253.95 251.0,253.91 251.5,253.85 252.0,253.73 252.5,253.54 253.0,253.27 253.5,252.91 254.0,252.50 254.5,252.11 255.0,251.81 255.5,251.66 256.0,251.71 256.5,251.94 257.0,252.29 257.5,252.68 258.0,253.04 258.5,253.33 259.0,253.53 259.5,253.65 260.0,253.72 260.5,253.74 261.0,253.75 261.5,253.74 262.0,253.73 262.5,253.71 263.0,253.70 263.5,253.68 264.0,253.66 264.5,253.65 265.0,253.63 265.5,253.61 266.0,253.59 266.5,253.57 267.0,253.55 267.5,253.53 268.0,253.51 268.5,253.49 269.0,253.47 269.5,253.45 270.0,253.43 270.5,253.41 271.0,253.39 271.5,253.37 272.0,253.35 272.5,253.33 273.0,253.31 273.5,253.29 274.0,253.27 274.5,253.25 275.0,253.23 275.5,253.21 276.0,253.18 276.5,253.16 277.0,253.12 277.5,253.08 278.0,253.03 278.5,252.97 279.0,252.90 279.5,252.82 280.0,252.74 280.5,252.66 281.0,252.61 281.5,252.57 282.0,252.56 282.5,252.58 283.0,252.62 283.5,252.68 284.0,252.74 284.5,252.80 285.0,252.85 285.5,252.89 286.0,252.92 286.5,252.94 287.0,252.95 287.5,252.95 288.0,252.95 288.5,252.95 289.0,252.93 289.5,252.91 290.0,252.86 290.5,252.79 291.0,252.70 291.5,252.59 292.0,252.46 292.5,252.32 293.0,252.20 293.5,252.12 294.0,252.08 294.5,252.10 295.0,252.18 295.5,252.30 296.0,252.45 296.5,252.61 297.0,252.76 297.5,252.90 298.0,253.01 298.5,253.10 299.0,253.17 299.5,253.21 300.0,253.25 300.5,253.28 301.0,253.31 301.5,253.33 302.0,253.35 302.5,253.37 303.0,253.39 303.5,253.41 304.0,253.43 304.5,253.45 305.0,253.47 305.5,253.49 306.0,253.50 306.5,253.51 307.0,253.52 307.5,253.50 308.0,253.47 308.5,253.42 309.0,253.33 309.5,253.22 310.0,253.08 310.5,252.92 311.0,252.78 311.5,252.66 312.0,252.59 312.5,252.59 313.0,252.65 313.5,252.77 314.0,252.93 314.5,253.11 315.0,253.29 315.5,253.45 316.0,253.59 316.5,253.69 317.0,253.77 317.5,253.82 318.0,253.85 318.5,253.88 319.0,253.90 319.5,253.91 320.0,253.92 320.5,253.93 321.0,253.94"/><polyline points="339.0,253.94 339.5,253.91 340.0,253.87 340.5,253.83 341.0,253.77 341.5,253.70 342.0,253.61 342.5,253.51 343.0,253.40 343.5,253.28 344.0,253.15 344.5,253.02 345.0,252.90 345.5,252.79 346.0,252.69 346.5,252.61 347.0,252.56 347.5,252.54 348.0,252.54 348.5,252.57 349.0,252.62 349.5,252.68 350.0,252.75 350.5,252.83 351.0,252.90 351.5,252.98 352.0,253.05 352.5,253.11 353.0,253.17 353.5,253.22 354.0,253.27 354.5,253.31 355.0,253.35 355.5,253.39 356.0,253.43 356.5,253.47 357.0,253.51 357.5,253.55 358.0,253.59 358.5,253.63 359.0,253.66 359.5,253.70 360.0,253.74 360.5,253.77 361.0,253.80 361.5,253.83 362.0,253.86 362.5,253.88 363.0,253.91 363.5,253.93 364.0,253.95"/></g>
<g stroke="#f00" stroke-width="2.1"><polyline points="100.0,254.05 100.5,254.05 101.0,254.05 101.5,254.05 102.0,254.05 102.5,254.05 103.0,254.05 103.5,254.05 104.0,254.05 104.5,254.05 105.0,254.05 105.5,254.05 106.0,254.05 106.5,254.05 107.0,254.05 107.5,254.05 108.0,254.05 108.5,254.05 109.0,254.05 109.5,254.05 110.0,254.05 110.5,254.05 111.0,254.05 111.5,254.05 112.0,254.05 112.5,254.05 113.0,254.05 113.5,254.05 114.0,254.05 114.5,254.05 115.0,254.05 115.5,254.05 116.0,254.05 116.5,254.05 117.0,254.05 117.5,254.05 118.0,254.05 118.5,254.05 119.0,254.05 119.5,254.05 120.0,254.05 120.5,254.05 121.0,254.05 121.5,254.05 122.0,254.05 122.5,254.05 123.0,254.05 123.5,254.05 124.0,254.05 124.5,254.05 125.0,254.05 125.5,254.05 126.0,254.05 126.5,254.05 127.0,254.05 127.5,254.05 128.0,254.05 128.5,254.05 129.0,254.05 129.5,254.05 130.0,254.05 130.5,254.05 131.0,254.05 131.5,254.05 132.0,254.05 132.5,254.05 133.0,254.05 133.5,254.05 134.0,254.05 134.5,254.05 135.0,254.05 135.5,254.05 136.0,254.05 136.5,254.05 137.0,254.05 137.5,254.05 138.0,254.05 138.5,254.05 139.0,254.05 139.5,254.05 140.0,254.05 140.5,254.05 141.0,254.05 141.5,254.05 142.0,254.05 142.5,254.05 143.0,254.05 143.5,254.05 144.0,254.05 144.5,254.05 145.0,254.05 145.5,254.05 146.0,254.05 146.5,254.05 147.0,254.05 147.5,254.05 148.0,254.05 148.5,254.05 149.0,254.05 149.5,254.05 150.0,254.05 150.5,254.05 151.0,254.05 151.5,254.05 152.0,254.05 152.5,254.05 153.0,254.05 153.5,254.05 154.0,254.05 154.5,254.05 155.0,254.05 155.5,254.05 156.0,254.05 156.5,254.05 157.0,254.05 157.5,254.05 158.0,254.05 158.5,254.05 159.0,254.05 159.5,254.05 160.0,254.05 160.5,254.05 161.0,254.05 161.5,254.05 162.0,254.05 162.5,254.05 163.0,254.05 163.5,254.05 164.0,254.05 164.5,254.05 165.0,254.05 165.5,254.05 166.0,254.05 166.5,254.05 167.0,254.05 167.5,254.05 168.0,254.05 168.5,254.05 169.0,254.05 169.5,254.05 170.0,254.05 170.5,254.05 171.0,254.05 171.5,254.05 172.0,254.05 172.5,254.05 173.0,254.05 173.5,254.05 174.0,254.05 174.5,254.05 175.0,254.05 175.5,254.05 176.0,254.05 176.5,254.05 177.0,254.05 177.5,254.05 178.0,254.05 178.5,254.05 179.0,254.05 179.5,254.05 180.0,254.05 180.5,254.05 181.0,254.05 181.5,254.05 182.0,254.05 182.5,254.05 183.0,254.05 183.5,254.05 184.0,254.05 184.5,254.05 185.0,254.05 185.5,254.05 186.0,254.05 186.5,254.05 187.0,254.05 187.5,254.05 188.0,254.05 188.5,254.05 189.0,254.05 189.5,254.05 190.0,254.05 190.5,254.05 191.0,254.05 191.5,254.05 192.0,254.05 192.5,254.05 193.0,254.05 193.5,254.05 194.0,254.05 194.5,254.05 195.0,254.05 195.5,254.05 196.0,254.05 196.5,254.05 197.0,254.05 197.5,254.05 198.0,254.05 198.5,254.05 199.0,254.05 199.5,254.05 200.0,254.05 200.5,254.05 201.0,254.05 201.5,254.05 202.0,254.05 202.5,254.05 203.0,254.05 203.5,254.05 204.0,254.05 204.5,254.04 205.0,254.03 205.5,254.01 206.0,253.98 206.5,253.93 207.0,253.86 207.5,253.75 208.0,253.62 208.5,253.46 209.0,253.29 209.5,253.13 210.0,252.99 210.5,252.91 211.0,252.89 211.5,252.93 212.0,253.04 212.5,253.19 213.0,253.36 213.5,253.52 214.0,253.67 214.5,253.80 215.0,253.89 215.5,253.95 216.0,254.00 216.5,254.02 217.0,254.04 217.5,254.04 218.0,254.05 218.5,254.05 219.0,254.05 219.5,254.05 220.0,254.05 220.5,254.05 221.0,254.05 221.5,254.05 222.0,254.05 222.5,254.05 223.0,254.05 223.5,254.05 224.0,254.05 224.5,254.05 225.0,254.04 225.5,254.04 226.0,254.02 226.5,253.99 227.0,253.95 227.5,253.87 228.0,253.75 228.5,253.59 229.0,253.38 229.5,253.12 230.0,252.84 230.5,252.56 231.0,252.32 231.5,252.17 232.0,252.11 232.5,252.17 233.0,252.32 233.5,252.56 234.0,252.84 234.5,253.12 235.0,253.38 235.5,253.59 236.0,253.75 236.5,253.87 237.0,253.95 237.5,253.99 238.0,254.02 238.5,254.04 239.0,254.04 239.5,254.05 240.0,254.05 240.5,254.05 241.0,254.05 241.5,254.05 242.0,254.05 242.5,254.05 243.0,254.05 243.5,254.05 244.0,254.05 244.5,254.05 245.0,254.05 245.5,254.05 246.0,254.05 246.5,254.05 247.0,254.05 247.5,254.05 248.0,254.05 248.5,254.05 249.0,254.04 249.5,254.01 250.0,253.94 250.5,253.84 251.0,253.68 251.5,253.40 252.0,252.86 252.5,252.03 253.0,251.05 253.5,250.07 254.0,249.12 254.5,248.25 255.0,247.61 255.5,247.45 256.0,247.96 256.5,249.01 257.0,250.24 257.5,251.36 258.0,252.24 258.5,252.75 259.0,252.85 259.5,252.67 260.0,252.37 260.5,252.06 261.0,251.74 261.5,251.42 262.0,251.09 262.5,250.78 263.0,250.50 263.5,250.27 264.0,250.06 264.5,249.88 265.0,249.71 265.5,249.59 266.0,249.51 266.5,249.51 267.0,249.61 267.5,249.81 268.0,250.09 268.5,250.41 269.0,250.73 269.5,251.06 270.0,251.40 270.5,251.75 271.0,252.07 271.5,252.28 272.0,252.29 272.5,252.03 273.0,251.54 273.5,250.89 274.0,250.21 274.5,249.57 275.0,248.96 275.5,248.34 276.0,247.73 276.5,247.17 277.0,246.72 277.5,246.44 278.0,246.37 278.5,246.52 279.0,246.83 279.5,247.23 280.0,247.65 280.5,248.03 281.0,248.37 281.5,248.63 282.0,248.78 282.5,248.80 283.0,248.75 283.5,248.69 284.0,248.62 284.5,248.60 285.0,248.68 285.5,248.93 286.0,249.32 286.5,249.78 287.0,250.27 287.5,250.77 288.0,251.18 288.5,251.30 289.0,251.00 289.5,250.26 290.0,249.20 290.5,247.83 291.0,246.10 291.5,244.12 292.0,242.19 292.5,240.59 293.0,239.65 293.5,239.52 294.0,239.93 294.5,240.55 295.0,241.21 295.5,241.90 296.0,242.56 296.5,243.10 297.0,243.40 297.5,243.36 298.0,242.93 298.5,242.20 299.0,241.38 299.5,240.60 300.0,239.93 300.5,239.46 301.0,239.40 301.5,239.84 302.0,240.63 302.5,241.50 303.0,242.32 303.5,243.10 304.0,243.79 304.5,244.28 305.0,244.45 305.5,244.26 306.0,243.73 306.5,242.95 307.0,242.01 307.5,240.90 308.0,239.54 308.5,237.97 309.0,236.45 309.5,235.25 310.0,234.38 310.5,233.80 311.0,233.54 311.5,233.75 312.0,234.45 312.5,235.42 313.0,236.39 313.5,237.28 314.0,237.82 314.5,237.48 315.0,235.73 315.5,232.66 316.0,228.78 316.5,224.55 317.0,220.57 317.5,217.59 318.0,216.29 318.5,217.00 319.0,219.45 319.5,223.32 320.0,228.35 320.5,233.77 321.0,238.86 321.5,243.33 322.0,247.06 322.5,250.00 323.0,252.04 323.5,253.19 324.0,253.74 324.5,253.97 325.0,254.04 325.5,254.05 326.0,254.05 326.5,254.05 327.0,254.05 327.5,254.05 328.0,254.05 328.5,254.05 329.0,254.05 329.5,254.05 330.0,254.05 330.5,254.05 331.0,254.05 331.5,254.05 332.0,254.05 332.5,254.05 333.0,254.05 333.5,254.05 334.0,254.05 334.5,254.05 335.0,254.05 335.5,254.05 336.0,254.05 336.5,254.04 337.0,254.03 337.5,254.01 338.0,253.96 338.5,253.88 339.0,253.75 339.5,253.52 340.0,253.17 340.5,252.67 341.0,251.97 341.5,251.07 342.0,249.98 342.5,248.76 343.0,247.49 343.5,246.29 344.0,245.28 344.5,244.56 345.0,244.18 345.5,244.13 346.0,244.34 346.5,244.70 347.0,245.09 347.5,245.39 348.0,245.55 348.5,245.56 349.0,245.45 349.5,245.26 350.0,245.03 350.5,244.75 351.0,244.34 351.5,243.74 352.0,242.82 352.5,241.56 353.0,239.95 353.5,238.12 354.0,236.28 354.5,234.67 355.0,233.56 355.5,233.17 356.0,233.60 356.5,234.85 357.0,236.79 357.5,239.20 358.0,241.83 358.5,244.43 359.0,246.81 359.5,248.85 360.0,250.47 360.5,251.70 361.0,252.57 361.5,253.15 362.0,253.52 362.5,253.72 363.0,253.81 363.5,253.79 364.0,253.67 364.5,253.44 365.0,253.07 365.5,252.53 366.0,251.80 366.5,250.89 367.0,249.86 367.5,248.77 368.0,247.74 368.5,246.91 369.0,246.40 369.5,246.28 370.0,246.56 370.5,247.21 371.0,248.14 371.5,249.20 372.0,250.28 372.5,251.27 373.0,252.11 373.5,252.77 374.0,253.25 374.5,253.57 375.0,253.78 375.5,253.91 376.0,253.98 376.5,254.02 377.0,254.03 377.5,254.04 378.0,254.05 378.5,254.05 379.0,254.05 379.5,254.05 380.0,254.05 380.5,254.04 381.0,254.04 381.5,254.03 382.0,254.02 382.5,254.00 383.0,253.98 383.5,253.95 384.0,253.91 384.5,253.86 385.0,253.79 385.5,253.72 386.0,253.63 386.5,253.54 387.0,253.44 387.5,253.35 388.0,253.26 388.5,253.18 389.0,253.12 389.5,253.08 390.0,253.06 390.5,253.08 391.0,253.12 391.5,253.18 392.0,253.26 392.5,253.35 393.0,253.44 393.5,253.54 394.0,253.63 394.5,253.72 395.0,253.79 395.5,253.86 396.0,253.91 396.5,253.95 397.0,253.98 397.5,254.00 398.0,254.02 398.5,254.03 399.0,254.04 399.5,254.04 400.0,254.05 400.5,254.05 401.0,254.05 401.5,254.05 402.0,254.05 402.5,254.05 403.0,254.05 403.5,254.05 404.0,254.05 404.5,254.05 405.0,254.05 405.5,254.05 406.0,254.05 406.5,254.05 407.0,254.05 407.5,254.05 408.0,254.05 408.5,254.05 409.0,254.05 409.5,254.05 410.0,254.05 410.5,254.05 411.0,254.05 411.5,254.05 412.0,254.05 412.5,254.05 413.0,254.05 413.5,254.05 414.0,254.05 414.5,254.05 415.0,254.05 415.5,254.05 416.0,254.05 416.5,254.05 417.0,254.05 417.5,254.05 418.0,254.05 418.5,254.05 419.0,254.05 419.5,254.05 420.0,254.05 420.5,254.05 421.0,254.05 421.5,254.05 422.0,254.05 422.5,254.05 423.0,254.05 423.5,254.05 424.0,254.05 424.5,254.05 425.0,254.05 425.5,254.05 426.0,254.05 426.5,254.05 427.0,254.05 427.5,254.05 428.0,254.05 428.5,254.05 429.0,254.05 429.5,254.05 430.0,254.05 430.5,254.05 431.0,254.05 431.5,254.05 432.0,254.05 432.5,254.05 433.0,254.05 433.5,254.05 434.0,254.05 434.5,254.05 435.0,254.05 435.5,254.05 436.0,254.05 436.5,254.05 437.0,254.05 437.5,254.05 438.0,254.05 438.5,254.05 439.0,254.05 439.5,254.05 440.0,254.05 440.5,254.05 441.0,254.05 441.5,254.05 442.0,254.05 442.5,254.05 443.0,254.05 443.5,254.05 444.0,254.05 444.5,254.05 445.0,254.05 445.5,254.05 446.0,254.05 446.5,254.05 447.0,254.05 447.5,254.05 448.0,254.05 448.5,254.05 449.0,254.05 449.5,254.05 450.0,254.05 450.5,254.05 451.0,254.05 451.5,254.05"/></g>
</g>
<g fill="none" stroke-linejoin="round" stroke-linecap="butt">
<g stroke="#000" stroke-width="2.15"><polyline points="186.0,314.62 186.5,314.55 187.0,314.46 187.5,314.32 188.0,314.15 188.5,313.94 189.0,313.71 189.5,313.50 190.0,313.33 190.5,313.23 191.0,313.20 191.5,313.23 192.0,313.28 192.5,313.26 193.0,313.07 193.5,312.56 194.0,311.58 194.5,310.01 195.0,307.79 195.5,305.00 196.0,301.88 196.5,298.85 197.0,296.39 197.5,294.95 198.0,294.81 198.5,296.01 199.0,298.32 199.5,301.29 200.0,304.45 200.5,307.38 201.0,309.79 201.5,311.58 202.0,312.76 202.5,313.44 203.0,313.74 203.5,313.79 204.0,313.69 204.5,313.53 205.0,313.36 205.5,313.24 206.0,313.20 206.5,313.25 207.0,313.38 207.5,313.57 208.0,313.79 208.5,314.01 209.0,314.21 209.5,314.37 210.0,314.48 210.5,314.55 211.0,314.57 211.5,314.55 212.0,314.47 212.5,314.33 213.0,314.10 213.5,313.80 214.0,313.41 214.5,312.97 215.0,312.52 215.5,312.12 216.0,311.83 216.5,311.70 217.0,311.76 217.5,311.99 218.0,312.35 218.5,312.79 219.0,313.24 219.5,313.65 220.0,313.99 220.5,314.25 221.0,314.43 221.5,314.55 222.0,314.62"/><polyline points="229.5,314.59 230.0,314.46 230.5,314.25 231.0,313.88 231.5,313.33 232.0,312.54 232.5,311.54 233.0,310.39 233.5,309.21 234.0,308.17 234.5,307.46 235.0,307.20 235.5,307.46 236.0,308.17 236.5,309.21 237.0,310.39 237.5,311.54 238.0,312.54 238.5,313.33 239.0,313.88 239.5,314.25 240.0,314.46 240.5,314.59"/><polyline points="250.0,314.59 250.5,314.52 251.0,314.40 251.5,314.25 252.0,314.06 252.5,313.84 253.0,313.61 253.5,313.41 254.0,313.27 254.5,313.20 255.0,313.23 255.5,313.34 256.0,313.52 256.5,313.74 257.0,313.96 257.5,314.15 258.0,314.30 258.5,314.38 259.0,314.38 259.5,314.30 260.0,314.12 260.5,313.83 261.0,313.45 261.5,312.99 262.0,312.50 262.5,312.03 263.0,311.65 263.5,311.44 264.0,311.42 264.5,311.60 265.0,311.94 265.5,312.40 266.0,312.90 266.5,313.37 267.0,313.78 267.5,314.10 268.0,314.33 268.5,314.49 269.0,314.58 269.5,314.63"/><polyline points="270.5,314.62 271.0,314.56 271.5,314.46 272.0,314.31 272.5,314.10 273.0,313.83 273.5,313.51 274.0,313.16 274.5,312.82 275.0,312.52 275.5,312.29 276.0,312.16 276.5,312.11 277.0,312.15 277.5,312.25 278.0,312.39 278.5,312.57 279.0,312.78 279.5,313.02 280.0,313.27 280.5,313.53 281.0,313.78 281.5,313.99 282.0,314.15 282.5,314.24 283.0,314.25 283.5,314.18 284.0,314.04 284.5,313.84 285.0,313.60 285.5,313.36 286.0,313.14 286.5,312.97 287.0,312.87 287.5,312.82 288.0,312.83 288.5,312.86 289.0,312.92 289.5,312.99 290.0,313.08 290.5,313.20 291.0,313.35 291.5,313.53 292.0,313.73 292.5,313.94 293.0,314.13 293.5,314.30 294.0,314.43 294.5,314.53 295.0,314.60"/><polyline points="364.5,314.59 365.0,314.57 365.5,314.55 366.0,314.52 366.5,314.50 367.0,314.47 367.5,314.44 368.0,314.40 368.5,314.36 369.0,314.32 369.5,314.28 370.0,314.23 370.5,314.18 371.0,314.13 371.5,314.08 372.0,314.02 372.5,313.97 373.0,313.91 373.5,313.86 374.0,313.80 374.5,313.75 375.0,313.69 375.5,313.64 376.0,313.60 376.5,313.55 377.0,313.51 377.5,313.48 378.0,313.45 378.5,313.43 379.0,313.41 379.5,313.40 380.0,313.40 380.5,313.40 381.0,313.41 381.5,313.43 382.0,313.45 382.5,313.48 383.0,313.51 383.5,313.55 384.0,313.60 384.5,313.64 385.0,313.69 385.5,313.75 386.0,313.80 386.5,313.86 387.0,313.91 387.5,313.97 388.0,314.02 388.5,314.08 389.0,314.13 389.5,314.18 390.0,314.23 390.5,314.28 391.0,314.32 391.5,314.36 392.0,314.40 392.5,314.44 393.0,314.47 393.5,314.50 394.0,314.52 394.5,314.55 395.0,314.57 395.5,314.59"/></g>
<g stroke="#f00" stroke-width="2.1"><polyline points="97.0,314.70 97.5,314.70 98.0,314.70 98.5,314.70 99.0,314.70 99.5,314.70 100.0,314.70 100.5,314.70 101.0,314.70 101.5,314.70 102.0,314.70 102.5,314.70 103.0,314.70 103.5,314.70 104.0,314.70 104.5,314.70 105.0,314.70 105.5,314.70 106.0,314.70 106.5,314.70 107.0,314.70 107.5,314.70 108.0,314.70 108.5,314.70 109.0,314.70 109.5,314.70 110.0,314.70 110.5,314.70 111.0,314.70 111.5,314.70 112.0,314.70 112.5,314.70 113.0,314.70 113.5,314.70 114.0,314.70 114.5,314.70 115.0,314.70 115.5,314.70 116.0,314.70 116.5,314.70 117.0,314.70 117.5,314.70 118.0,314.70 118.5,314.70 119.0,314.70 119.5,314.70 120.0,314.70 120.5,314.70 121.0,314.70 121.5,314.70 122.0,314.70 122.5,314.70 123.0,314.70 123.5,314.70 124.0,314.70 124.5,314.70 125.0,314.70 125.5,314.70 126.0,314.70 126.5,314.70 127.0,314.70 127.5,314.70 128.0,314.70 128.5,314.70 129.0,314.70 129.5,314.70 130.0,314.70 130.5,314.70 131.0,314.70 131.5,314.70 132.0,314.70 132.5,314.70 133.0,314.70 133.5,314.70 134.0,314.70 134.5,314.70 135.0,314.70 135.5,314.70 136.0,314.70 136.5,314.70 137.0,314.70 137.5,314.70 138.0,314.70 138.5,314.70 139.0,314.70 139.5,314.70 140.0,314.70 140.5,314.70 141.0,314.70 141.5,314.70 142.0,314.70 142.5,314.70 143.0,314.70 143.5,314.70 144.0,314.70 144.5,314.70 145.0,314.70 145.5,314.70 146.0,314.70 146.5,314.70 147.0,314.70 147.5,314.70 148.0,314.70 148.5,314.70 149.0,314.70 149.5,314.70 150.0,314.70 150.5,314.70 151.0,314.70 151.5,314.70 152.0,314.70 152.5,314.70 153.0,314.70 153.5,314.70 154.0,314.70 154.5,314.70 155.0,314.70 155.5,314.70 156.0,314.70 156.5,314.70 157.0,314.70 157.5,314.70 158.0,314.70 158.5,314.70 159.0,314.70 159.5,314.70 160.0,314.70 160.5,314.70 161.0,314.70 161.5,314.70 162.0,314.70 162.5,314.70 163.0,314.70 163.5,314.70 164.0,314.70 164.5,314.70 165.0,314.70 165.5,314.70 166.0,314.70 166.5,314.70 167.0,314.70 167.5,314.70 168.0,314.70 168.5,314.70 169.0,314.70 169.5,314.70 170.0,314.70 170.5,314.70 171.0,314.70 171.5,314.70 172.0,314.70 172.5,314.70 173.0,314.70 173.5,314.70 174.0,314.70 174.5,314.70 175.0,314.70 175.5,314.70 176.0,314.70 176.5,314.70 177.0,314.70 177.5,314.70 178.0,314.70 178.5,314.70 179.0,314.70 179.5,314.70 180.0,314.70 180.5,314.70 181.0,314.70 181.5,314.70 182.0,314.70 182.5,314.70 183.0,314.70 183.5,314.70 184.0,314.70 184.5,314.70 185.0,314.70 185.5,314.70 186.0,314.70 186.5,314.70 187.0,314.70 187.5,314.70 188.0,314.70 188.5,314.70 189.0,314.70 189.5,314.70 190.0,314.70 190.5,314.70 191.0,314.69 191.5,314.69 192.0,314.67 192.5,314.65 193.0,314.61 193.5,314.55 194.0,314.47 194.5,314.36 195.0,314.23 195.5,314.09 196.0,313.96 196.5,313.84 197.0,313.76 197.5,313.73 198.0,313.76 198.5,313.84 199.0,313.96 199.5,314.09 200.0,314.23 200.5,314.36 201.0,314.47 201.5,314.55 202.0,314.61 202.5,314.65 203.0,314.67 203.5,314.69 204.0,314.69 204.5,314.70 205.0,314.70 205.5,314.70 206.0,314.70 206.5,314.70 207.0,314.70 207.5,314.70 208.0,314.70 208.5,314.70 209.0,314.70 209.5,314.70 210.0,314.70 210.5,314.70 211.0,314.70 211.5,314.70 212.0,314.70 212.5,314.70 213.0,314.70 213.5,314.70 214.0,314.70 214.5,314.70 215.0,314.70 215.5,314.70 216.0,314.70 216.5,314.70 217.0,314.70 217.5,314.70 218.0,314.70 218.5,314.70 219.0,314.70 219.5,314.70 220.0,314.70 220.5,314.70 221.0,314.70 221.5,314.70 222.0,314.70 222.5,314.70 223.0,314.70 223.5,314.70 224.0,314.70 224.5,314.70 225.0,314.70 225.5,314.70 226.0,314.70 226.5,314.70 227.0,314.70 227.5,314.70 228.0,314.70 228.5,314.70 229.0,314.70 229.5,314.70 230.0,314.70 230.5,314.70 231.0,314.70 231.5,314.70 232.0,314.70 232.5,314.70 233.0,314.70 233.5,314.70 234.0,314.70 234.5,314.70 235.0,314.70 235.5,314.70 236.0,314.70 236.5,314.70 237.0,314.70 237.5,314.70 238.0,314.70 238.5,314.70 239.0,314.70 239.5,314.70 240.0,314.70 240.5,314.70 241.0,314.70 241.5,314.70 242.0,314.70 242.5,314.70 243.0,314.70 243.5,314.70 244.0,314.70 244.5,314.70 245.0,314.70 245.5,314.70 246.0,314.70 246.5,314.70 247.0,314.70 247.5,314.70 248.0,314.70 248.5,314.70 249.0,314.70 249.5,314.70 250.0,314.70 250.5,314.70 251.0,314.70 251.5,314.70 252.0,314.70 252.5,314.70 253.0,314.70 253.5,314.70 254.0,314.70 254.5,314.70 255.0,314.69 255.5,314.64 256.0,314.56 256.5,314.50 257.0,314.47 257.5,314.43 258.0,314.37 258.5,314.26 259.0,314.09 259.5,313.85 260.0,313.58 260.5,313.29 261.0,312.98 261.5,312.63 262.0,312.25 262.5,311.86 263.0,311.54 263.5,311.34 264.0,311.34 264.5,311.53 265.0,311.87 265.5,312.28 266.0,312.70 266.5,313.13 267.0,313.56 267.5,313.94 268.0,314.20 268.5,314.24 269.0,314.01 269.5,313.57 270.0,313.03 270.5,312.44 271.0,311.83 271.5,311.26 272.0,310.86 272.5,310.63 273.0,310.50 273.5,310.41 274.0,310.35 274.5,310.33 275.0,310.36 275.5,310.44 276.0,310.56 276.5,310.63 277.0,310.59 277.5,310.44 278.0,310.24 278.5,310.06 279.0,310.02 279.5,310.18 280.0,310.51 280.5,310.94 281.0,311.39 281.5,311.85 282.0,312.23 282.5,312.42 283.0,312.33 283.5,311.99 284.0,311.51 284.5,310.97 285.0,310.41 285.5,309.85 286.0,309.35 286.5,308.93 287.0,308.55 287.5,308.21 288.0,307.88 288.5,307.56 289.0,307.22 289.5,306.91 290.0,306.69 290.5,306.66 291.0,306.89 291.5,307.41 292.0,308.20 292.5,309.22 293.0,310.38 293.5,311.55 294.0,312.63 294.5,313.53 295.0,314.13 295.5,314.39 296.0,314.47 296.5,314.49 297.0,314.48 297.5,314.47 298.0,314.43 298.5,314.39 299.0,314.31 299.5,314.20 300.0,314.05 300.5,313.88 301.0,313.69 301.5,313.47 302.0,313.20 302.5,312.90 303.0,312.62 303.5,312.45 304.0,312.47 304.5,312.71 305.0,313.10 305.5,313.52 306.0,313.90 306.5,314.20 307.0,314.33 307.5,314.19 308.0,313.76 308.5,313.07 309.0,312.02 309.5,310.29 310.0,307.24 310.5,302.46 311.0,296.39 311.5,290.06 312.0,284.45 312.5,280.02 313.0,276.85 313.5,275.03 314.0,274.61 314.5,275.21 315.0,276.34 315.5,277.69 316.0,278.84 316.5,278.90 317.0,277.15 317.5,273.85 318.0,269.98 318.5,266.30 319.0,263.68 319.5,263.03 320.0,264.46 320.5,267.68 321.0,272.63 321.5,279.03 322.0,286.26 322.5,293.71 323.0,300.47 323.5,305.63 324.0,309.22 324.5,311.67 325.0,313.24 325.5,314.15 326.0,314.56 326.5,314.68 327.0,314.70 327.5,314.70 328.0,314.70 328.5,314.70 329.0,314.70 329.5,314.70 330.0,314.70 330.5,314.70 331.0,314.70 331.5,314.70 332.0,314.70 332.5,314.70 333.0,314.70 333.5,314.70 334.0,314.70 334.5,314.70 335.0,314.70 335.5,314.70 336.0,314.70 336.5,314.70 337.0,314.70 337.5,314.70 338.0,314.70 338.5,314.70 339.0,314.70 339.5,314.70 340.0,314.70 340.5,314.70 341.0,314.70 341.5,314.70 342.0,314.70 342.5,314.70 343.0,314.70 343.5,314.70 344.0,314.70 344.5,314.70 345.0,314.70 345.5,314.70 346.0,314.69 346.5,314.66 347.0,314.61 347.5,314.49 348.0,314.25 348.5,313.81 349.0,313.09 349.5,312.00 350.0,310.52 350.5,308.71 351.0,306.79 351.5,305.04 352.0,303.82 352.5,303.38 353.0,303.82 353.5,305.04 354.0,306.79 354.5,308.71 355.0,310.52 355.5,312.00 356.0,313.09 356.5,313.81 357.0,314.25 357.5,314.49 358.0,314.61 358.5,314.66 359.0,314.68 359.5,314.69 360.0,314.69 360.5,314.68 361.0,314.67 361.5,314.65 362.0,314.63 362.5,314.59 363.0,314.54 363.5,314.47 364.0,314.38 364.5,314.26 365.0,314.11 365.5,313.94 366.0,313.74 366.5,313.53 367.0,313.30 367.5,313.06 368.0,312.84 368.5,312.63 369.0,312.46 369.5,312.32 370.0,312.22 370.5,312.15 371.0,312.12 371.5,312.09 372.0,312.07 372.5,312.02 373.0,311.94 373.5,311.81 374.0,311.62 374.5,311.36 375.0,311.06 375.5,310.70 376.0,310.32 376.5,309.94 377.0,309.58 377.5,309.26 378.0,309.01 378.5,308.83 379.0,308.75 379.5,308.75 380.0,308.84 380.5,308.99 381.0,309.19 381.5,309.41 382.0,309.63 382.5,309.83 383.0,309.98 383.5,310.08 384.0,310.14 384.5,310.15 385.0,310.14 385.5,310.12 386.0,310.11 386.5,310.15 387.0,310.23 387.5,310.37 388.0,310.58 388.5,310.83 389.0,311.12 389.5,311.42 390.0,311.72 390.5,312.00 391.0,312.23 391.5,312.41 392.0,312.55 392.5,312.63 393.0,312.67 393.5,312.69 394.0,312.69 394.5,312.70 395.0,312.71 395.5,312.74 396.0,312.80 396.5,312.88 397.0,312.98 397.5,313.10 398.0,313.22 398.5,313.35 399.0,313.47 399.5,313.59 400.0,313.69 400.5,313.79 401.0,313.86 401.5,313.93 402.0,313.99 402.5,314.04 403.0,314.08 403.5,314.12 404.0,314.16 404.5,314.19 405.0,314.22 405.5,314.25 406.0,314.28 406.5,314.31 407.0,314.34 407.5,314.37 408.0,314.39 408.5,314.42 409.0,314.44 409.5,314.46 410.0,314.47 410.5,314.49 411.0,314.50 411.5,314.51 412.0,314.51 412.5,314.52 413.0,314.52 413.5,314.52 414.0,314.52 414.5,314.51 415.0,314.51 415.5,314.50 416.0,314.49 416.5,314.48 417.0,314.47 417.5,314.46 418.0,314.45 418.5,314.44 419.0,314.42 419.5,314.41 420.0,314.39 420.5,314.38 421.0,314.37 421.5,314.35 422.0,314.34 422.5,314.32 423.0,314.31 423.5,314.30 424.0,314.28 424.5,314.27 425.0,314.26 425.5,314.25 426.0,314.24 426.5,314.23 427.0,314.22 427.5,314.22 428.0,314.21 428.5,314.21 429.0,314.20 429.5,314.20 430.0,314.20 430.5,314.20 431.0,314.20 431.5,314.21 432.0,314.21 432.5,314.22 433.0,314.22 433.5,314.23 434.0,314.24 434.5,314.25 435.0,314.26 435.5,314.27 436.0,314.28 436.5,314.30 437.0,314.31 437.5,314.32 438.0,314.34 438.5,314.35 439.0,314.37 439.5,314.38 440.0,314.40 440.5,314.41 441.0,314.43 441.5,314.44 442.0,314.46 442.5,314.47 443.0,314.49 443.5,314.50 444.0,314.51 444.5,314.53 445.0,314.54 445.5,314.55 446.0,314.56 446.5,314.57 447.0,314.58 447.5,314.59 448.0,314.60 448.5,314.61 449.0,314.62 449.5,314.63 450.0,314.63 450.5,314.64 451.0,314.64 451.5,314.65 452.0,314.66 452.5,314.66 453.0,314.66 453.5,314.67 454.0,314.67 454.5,314.67 455.0,314.68 455.5,314.68 456.0,314.68 456.5,314.68 457.0,314.69 457.5,314.69 458.0,314.69 458.5,314.69 459.0,314.69 459.5,314.69 460.0,314.69 460.5,314.70 461.0,314.70 461.5,314.70 462.0,314.70 462.5,314.70 463.0,314.70 463.5,314.70 464.0,314.70 464.5,314.70 465.0,314.70 465.5,314.70 466.0,314.70 466.5,314.70 467.0,314.70 467.5,314.70 468.0,314.70 468.5,314.70 469.0,314.70 469.5,314.70 470.0,314.70 470.5,314.70 471.0,314.70"/></g>
</g>
<g fill="none" stroke-linejoin="round" stroke-linecap="butt">
<g stroke="#000" stroke-width="2.15"><polyline points="148.0,375.24 148.5,375.18 149.0,375.12 149.5,375.05 150.0,374.98 150.5,374.92 151.0,374.88 151.5,374.86 152.0,374.88 152.5,374.92 153.0,374.98 153.5,375.05 154.0,375.12 154.5,375.18 155.0,375.24"/><polyline points="166.0,375.26 166.5,375.19 167.0,375.10 167.5,374.97 168.0,374.81 168.5,374.60 169.0,374.38 169.5,374.16 170.0,373.95 170.5,373.73 171.0,373.45 171.5,373.05 172.0,372.53 172.5,371.92 173.0,371.27 173.5,370.62 174.0,369.96 174.5,369.30 175.0,368.68 175.5,368.16 176.0,367.74 176.5,367.40 177.0,367.11 177.5,366.89 178.0,366.75 178.5,366.75 179.0,366.90 179.5,367.20 180.0,367.62 180.5,368.16 181.0,368.85 181.5,369.67 182.0,370.56 182.5,371.47 183.0,372.32 183.5,373.00 184.0,373.46 184.5,373.60 185.0,373.33 185.5,372.73 186.0,372.01 186.5,371.35 187.0,370.75 187.5,370.25 188.0,369.91 188.5,369.86 189.0,370.14 189.5,370.70 190.0,371.45 190.5,372.33 191.0,373.14 191.5,373.73 192.0,374.13 192.5,374.38 193.0,374.50 193.5,374.52 194.0,374.50 194.5,374.45 195.0,374.40 195.5,374.34 196.0,374.27 196.5,374.18 197.0,374.08 197.5,373.99 198.0,373.92 198.5,373.89 199.0,373.92 199.5,374.04 200.0,374.21 200.5,374.38 201.0,374.53 201.5,374.64 202.0,374.72 202.5,374.82 203.0,374.98 203.5,375.18 204.0,375.28 204.5,375.27 205.0,375.18 205.5,375.02 206.0,374.75 206.5,374.34 207.0,373.76 207.5,373.03 208.0,372.19 208.5,371.35 209.0,370.63 209.5,370.17 210.0,370.06 210.5,370.32 211.0,370.89 211.5,371.68 212.0,372.53 212.5,373.34 213.0,374.01 213.5,374.51 214.0,374.84 214.5,375.03 215.0,375.09 215.5,375.05 216.0,374.91 216.5,374.68 217.0,374.36 217.5,373.99 218.0,373.60 218.5,373.26 219.0,373.03 219.5,372.94 220.0,373.03 220.5,373.26 221.0,373.60 221.5,373.99 222.0,374.35 222.5,374.66 223.0,374.88 223.5,375.01 224.0,375.05 224.5,375.03 225.0,374.93 225.5,374.79 226.0,374.62 226.5,374.43 227.0,374.23 227.5,374.05 228.0,373.89 228.5,373.76 229.0,373.64 229.5,373.54 230.0,373.44 230.5,373.37 231.0,373.33 231.5,373.33 232.0,373.41 232.5,373.55 233.0,373.76 233.5,374.02 234.0,374.29 234.5,374.55 235.0,374.77 235.5,374.95 236.0,375.07 236.5,375.14 237.0,375.13 237.5,375.06 238.0,374.91 238.5,374.67 239.0,374.36 239.5,373.99 240.0,373.60 240.5,373.26 241.0,373.03 241.5,372.94 242.0,373.02 242.5,373.26 243.0,373.60 243.5,373.98 244.0,374.36 244.5,374.67 245.0,374.92 245.5,375.09 246.0,375.20 246.5,375.26"/><polyline points="257.0,375.23 257.5,375.22 258.0,375.21 258.5,375.21 259.0,375.20 259.5,375.19 260.0,375.17 260.5,375.16 261.0,375.15 261.5,375.14 262.0,375.13 262.5,375.11 263.0,375.10 263.5,375.09 264.0,375.07 264.5,375.06 265.0,375.04 265.5,375.03 266.0,375.01 266.5,374.99 267.0,374.97 267.5,374.96 268.0,374.94 268.5,374.92 269.0,374.90 269.5,374.88 270.0,374.86 270.5,374.84 271.0,374.82 271.5,374.80 272.0,374.78 272.5,374.76 273.0,374.73 273.5,374.69 274.0,374.64 274.5,374.58 275.0,374.48 275.5,374.35 276.0,374.18 276.5,373.97 277.0,373.72 277.5,373.47 278.0,373.23 278.5,373.04 279.0,372.93 279.5,372.90 280.0,372.97 280.5,373.11 281.0,373.31 281.5,373.53 282.0,373.75 282.5,373.93 283.0,374.08 283.5,374.19 284.0,374.27 284.5,374.31 285.0,374.34 285.5,374.35 286.0,374.35 286.5,374.35 287.0,374.35 287.5,374.35 288.0,374.35 288.5,374.35 289.0,374.35 289.5,374.36 290.0,374.36 290.5,374.36 291.0,374.37 291.5,374.38 292.0,374.39 292.5,374.39 293.0,374.40 293.5,374.42 294.0,374.43 294.5,374.44 295.0,374.45 295.5,374.47 296.0,374.48 296.5,374.50 297.0,374.52 297.5,374.53 298.0,374.55 298.5,374.57 299.0,374.59 299.5,374.60 300.0,374.62 300.5,374.64 301.0,374.66 301.5,374.68 302.0,374.70 302.5,374.72 303.0,374.74 303.5,374.76 304.0,374.78 304.5,374.80 305.0,374.82 305.5,374.84 306.0,374.86 306.5,374.88 307.0,374.90 307.5,374.92 308.0,374.94 308.5,374.96 309.0,374.97 309.5,374.99 310.0,375.01 310.5,375.03 311.0,375.04 311.5,375.06 312.0,375.07 312.5,375.09 313.0,375.10 313.5,375.11 314.0,375.13 314.5,375.14 315.0,375.15 315.5,375.16 316.0,375.17 316.5,375.19 317.0,375.20 317.5,375.21 318.0,375.21 318.5,375.22 319.0,375.23"/><polyline points="346.5,375.25 347.0,375.22 347.5,375.18 348.0,375.13 348.5,375.07 349.0,375.01 349.5,374.93 350.0,374.84 350.5,374.74 351.0,374.64 351.5,374.53 352.0,374.42 352.5,374.31 353.0,374.20 353.5,374.10 354.0,374.02 354.5,373.95 355.0,373.90 355.5,373.87 356.0,373.86 356.5,373.88 357.0,373.92 357.5,373.97 358.0,374.05 358.5,374.14 359.0,374.24 359.5,374.35 360.0,374.46 360.5,374.57 361.0,374.68 361.5,374.78 362.0,374.88 362.5,374.96 363.0,375.03 363.5,375.10 364.0,375.15 364.5,375.20 365.0,375.23"/></g>
<g stroke="#f00" stroke-width="2.1"><polyline points="100.0,375.35 100.5,375.35 101.0,375.35 101.5,375.35 102.0,375.35 102.5,375.35 103.0,375.35 103.5,375.35 104.0,375.35 104.5,375.35 105.0,375.35 105.5,375.35 106.0,375.35 106.5,375.35 107.0,375.35 107.5,375.35 108.0,375.35 108.5,375.35 109.0,375.35 109.5,375.35 110.0,375.35 110.5,375.35 111.0,375.35 111.5,375.35 112.0,375.35 112.5,375.35 113.0,375.35 113.5,375.35 114.0,375.35 114.5,375.35 115.0,375.35 115.5,375.35 116.0,375.35 116.5,375.35 117.0,375.35 117.5,375.35 118.0,375.35 118.5,375.35 119.0,375.35 119.5,375.35 120.0,375.35 120.5,375.35 121.0,375.35 121.5,375.35 122.0,375.35 122.5,375.35 123.0,375.35 123.5,375.35 124.0,375.35 124.5,375.35 125.0,375.35 125.5,375.35 126.0,375.35 126.5,375.35 127.0,375.35 127.5,375.35 128.0,375.35 128.5,375.35 129.0,375.35 129.5,375.35 130.0,375.35 130.5,375.35 131.0,375.35 131.5,375.35 132.0,375.35 132.5,375.35 133.0,375.35 133.5,375.35 134.0,375.35 134.5,375.35 135.0,375.35 135.5,375.35 136.0,375.35 136.5,375.35 137.0,375.35 137.5,375.35 138.0,375.35 138.5,375.35 139.0,375.35 139.5,375.35 140.0,375.35 140.5,375.35 141.0,375.35 141.5,375.35 142.0,375.35 142.5,375.35 143.0,375.35 143.5,375.35 144.0,375.35 144.5,375.35 145.0,375.35 145.5,375.35 146.0,375.35 146.5,375.35 147.0,375.35 147.5,375.35 148.0,375.35 148.5,375.35 149.0,375.35 149.5,375.35 150.0,375.35 150.5,375.35 151.0,375.35 151.5,375.35 152.0,375.35 152.5,375.35 153.0,375.35 153.5,375.35 154.0,375.35 154.5,375.35 155.0,375.35 155.5,375.35 156.0,375.35 156.5,375.35 157.0,375.35 157.5,375.35 158.0,375.35 158.5,375.35 159.0,375.35 159.5,375.35 160.0,375.34 160.5,375.34 161.0,375.34 161.5,375.33 162.0,375.33 162.5,375.32 163.0,375.31 163.5,375.30 164.0,375.29 164.5,375.28 165.0,375.26 165.5,375.24 166.0,375.21 166.5,375.18 167.0,375.15 167.5,375.11 168.0,375.07 168.5,375.02 169.0,374.97 169.5,374.92 170.0,374.86 170.5,374.80 171.0,374.74 171.5,374.68 172.0,374.63 172.5,374.57 173.0,374.52 173.5,374.47 174.0,374.43 174.5,374.40 175.0,374.37 175.5,374.36 176.0,374.35 176.5,374.36 177.0,374.37 177.5,374.40 178.0,374.43 178.5,374.47 179.0,374.52 179.5,374.57 180.0,374.63 180.5,374.68 181.0,374.74 181.5,374.80 182.0,374.86 182.5,374.92 183.0,374.97 183.5,375.02 184.0,375.07 184.5,375.11 185.0,375.15 185.5,375.18 186.0,375.21 186.5,375.24 187.0,375.26 187.5,375.28 188.0,375.29 188.5,375.30 189.0,375.31 189.5,375.32 190.0,375.33 190.5,375.33 191.0,375.34 191.5,375.34 192.0,375.34 192.5,375.35 193.0,375.35 193.5,375.35 194.0,375.35 194.5,375.35 195.0,375.35 195.5,375.35 196.0,375.35 196.5,375.35 197.0,375.35 197.5,375.35 198.0,375.35 198.5,375.35 199.0,375.35 199.5,375.35 200.0,375.35 200.5,375.35 201.0,375.35 201.5,375.35 202.0,375.35 202.5,375.35 203.0,375.35 203.5,375.35 204.0,375.34 204.5,375.34 205.0,375.33 205.5,375.30 206.0,375.26 206.5,375.20 207.0,375.11 207.5,374.98 208.0,374.81 208.5,374.61 209.0,374.40 209.5,374.19 210.0,374.03 210.5,373.92 211.0,373.90 211.5,373.95 212.0,374.09 212.5,374.27 213.0,374.48 213.5,374.69 214.0,374.88 214.5,375.03 215.0,375.15 215.5,375.23 216.0,375.28 216.5,375.31 217.0,375.33 217.5,375.34 218.0,375.35 218.5,375.35 219.0,375.35 219.5,375.35 220.0,375.35 220.5,375.35 221.0,375.35 221.5,375.35 222.0,375.34 222.5,375.34 223.0,375.33 223.5,375.30 224.0,375.26 224.5,375.19 225.0,375.08 225.5,374.93 226.0,374.72 226.5,374.47 227.0,374.20 227.5,373.91 228.0,373.67 228.5,373.49 229.0,373.41 229.5,373.45 230.0,373.59 230.5,373.81 231.0,374.08 231.5,374.36 232.0,374.63 232.5,374.85 233.0,375.03 233.5,375.15 234.0,375.23 234.5,375.29 235.0,375.32 235.5,375.33 236.0,375.34 236.5,375.35 237.0,375.35 237.5,375.35 238.0,375.35 238.5,375.35 239.0,375.35 239.5,375.35 240.0,375.35 240.5,375.35 241.0,375.35 241.5,375.35 242.0,375.35 242.5,375.35 243.0,375.35 243.5,375.35 244.0,375.35 244.5,375.35 245.0,375.35 245.5,375.35 246.0,375.35 246.5,375.35 247.0,375.35 247.5,375.35 248.0,375.35 248.5,375.35 249.0,375.32 249.5,375.26 250.0,375.13 250.5,374.94 251.0,374.69 251.5,374.34 252.0,373.95 252.5,373.58 253.0,373.25 253.5,372.98 254.0,372.80 254.5,372.78 255.0,372.96 255.5,373.29 256.0,373.69 256.5,374.09 257.0,374.45 257.5,374.66 258.0,374.61 258.5,374.28 259.0,373.77 259.5,373.20 260.0,372.63 260.5,372.06 261.0,371.51 261.5,371.04 262.0,370.75 262.5,370.69 263.0,370.85 263.5,371.15 264.0,371.50 264.5,371.84 265.0,372.17 265.5,372.47 266.0,372.69 266.5,372.75 267.0,372.65 267.5,372.44 268.0,372.20 268.5,371.97 269.0,371.77 269.5,371.60 270.0,371.53 270.5,371.59 271.0,371.77 271.5,372.00 272.0,372.22 272.5,372.42 273.0,372.54 273.5,372.52 274.0,372.31 274.5,371.92 275.0,371.40 275.5,370.74 276.0,369.87 276.5,368.79 277.0,367.62 277.5,366.51 278.0,365.56 278.5,364.73 279.0,364.08 279.5,363.71 280.0,363.73 280.5,364.09 281.0,364.70 281.5,365.43 282.0,366.25 282.5,367.20 283.0,368.21 283.5,369.10 284.0,369.68 284.5,369.86 285.0,369.72 285.5,369.38 286.0,368.97 286.5,368.57 287.0,368.28 287.5,368.18 288.0,368.33 288.5,368.69 289.0,369.20 289.5,369.78 290.0,370.37 290.5,371.01 291.0,371.68 291.5,372.32 292.0,372.79 292.5,372.97 293.0,372.84 293.5,372.43 294.0,371.82 294.5,371.11 295.0,370.37 295.5,369.66 296.0,368.95 296.5,368.21 297.0,367.45 297.5,366.69 298.0,365.97 298.5,365.33 299.0,364.80 299.5,364.38 300.0,364.03 300.5,363.64 301.0,363.12 301.5,362.42 302.0,361.63 302.5,360.84 303.0,360.20 303.5,359.86 304.0,359.97 304.5,360.65 305.0,361.77 305.5,363.07 306.0,364.40 306.5,365.78 307.0,367.06 307.5,367.96 308.0,368.19 308.5,367.66 309.0,366.50 309.5,364.97 310.0,363.31 310.5,361.57 311.0,359.71 311.5,357.88 312.0,356.49 312.5,355.99 313.0,356.57 313.5,358.03 314.0,360.03 314.5,362.36 315.0,364.78 315.5,367.02 316.0,368.96 316.5,370.52 317.0,371.55 317.5,372.09 318.0,372.35 318.5,372.53 319.0,372.71 319.5,372.98 320.0,373.34 320.5,373.79 321.0,374.22 321.5,374.58 322.0,374.84 322.5,375.03 323.0,375.18 323.5,375.28 324.0,375.33 324.5,375.35 325.0,375.35 325.5,375.35 326.0,375.35 326.5,375.35 327.0,375.35 327.5,375.35 328.0,375.35 328.5,375.35 329.0,375.35 329.5,375.35 330.0,375.35 330.5,375.35 331.0,375.35 331.5,375.35 332.0,375.35 332.5,375.35 333.0,375.35 333.5,375.35 334.0,375.35 334.5,375.35 335.0,375.35 335.5,375.34 336.0,375.34 336.5,375.33 337.0,375.31 337.5,375.28 338.0,375.24 338.5,375.17 339.0,375.08 339.5,374.94 340.0,374.76 340.5,374.54 341.0,374.27 341.5,373.95 342.0,373.62 342.5,373.27 343.0,372.93 343.5,372.63 344.0,372.38 344.5,372.18 345.0,372.03 345.5,371.93 346.0,371.87 346.5,371.81 347.0,371.72 347.5,371.55 348.0,371.24 348.5,370.71 349.0,369.89 349.5,368.76 350.0,367.34 350.5,365.75 351.0,364.17 351.5,362.84 352.0,361.96 352.5,361.67 353.0,361.97 353.5,362.73 354.0,363.72 354.5,364.67 355.0,365.34 355.5,365.61 356.0,365.49 356.5,365.13 357.0,364.74 357.5,364.53 358.0,364.68 358.5,365.25 359.0,366.19 359.5,367.40 360.0,368.72 360.5,370.05 361.0,371.27 361.5,372.33 362.0,373.22 362.5,373.91 363.0,374.43 363.5,374.78 364.0,374.99 364.5,375.10 365.0,375.12 365.5,375.06 366.0,374.92 366.5,374.69 367.0,374.39 367.5,374.01 368.0,373.61 368.5,373.22 369.0,372.92 369.5,372.76 370.0,372.77 370.5,372.96 371.0,373.27 371.5,373.66 372.0,374.06 372.5,374.42 373.0,374.70 373.5,374.91 374.0,375.04 374.5,375.12 375.0,375.17 375.5,375.19 376.0,375.20 376.5,375.20 377.0,375.19 377.5,375.19 378.0,375.19 378.5,375.18 379.0,375.18 379.5,375.17 380.0,375.17 380.5,375.16 381.0,375.16 381.5,375.15 382.0,375.15 382.5,375.15 383.0,375.14 383.5,375.14 384.0,375.13 384.5,375.13 385.0,375.12 385.5,375.12 386.0,375.12 386.5,375.11 387.0,375.11 387.5,375.10 388.0,375.10 388.5,375.10 389.0,375.09 389.5,375.09 390.0,375.09 390.5,375.08 391.0,375.08 391.5,375.08 392.0,375.07 392.5,375.07 393.0,375.07 393.5,375.07 394.0,375.06 394.5,375.06 395.0,375.06 395.5,375.06 396.0,375.06 396.5,375.05 397.0,375.05 397.5,375.05 398.0,375.05 398.5,375.05 399.0,375.05 399.5,375.05 400.0,375.05 400.5,375.05 401.0,375.05 401.5,375.05 402.0,375.05 402.5,375.05 403.0,375.05 403.5,375.05 404.0,375.06 404.5,375.06 405.0,375.06 405.5,375.06 406.0,375.06 406.5,375.07 407.0,375.07 407.5,375.07 408.0,375.07 408.5,375.08 409.0,375.08 409.5,375.08 410.0,375.09 410.5,375.09 411.0,375.09 411.5,375.10 412.0,375.10 412.5,375.10 413.0,375.11 413.5,375.11 414.0,375.12 414.5,375.12 415.0,375.12 415.5,375.13 416.0,375.13 416.5,375.14 417.0,375.14 417.5,375.15 418.0,375.15 418.5,375.15 419.0,375.16 419.5,375.16 420.0,375.17 420.5,375.17 421.0,375.18 421.5,375.18 422.0,375.19 422.5,375.19 423.0,375.20 423.5,375.20 424.0,375.20 424.5,375.21 425.0,375.21 425.5,375.22 426.0,375.22 426.5,375.23 427.0,375.23 427.5,375.23 428.0,375.24 428.5,375.24 429.0,375.25 429.5,375.25 430.0,375.25 430.5,375.26 431.0,375.26 431.5,375.26 432.0,375.27 432.5,375.27 433.0,375.27 433.5,375.28 434.0,375.28 434.5,375.28 435.0,375.29 435.5,375.29 436.0,375.29 436.5,375.29 437.0,375.30 437.5,375.30 438.0,375.30 438.5,375.30 439.0,375.31 439.5,375.31 440.0,375.31 440.5,375.31 441.0,375.31 441.5,375.32 442.0,375.32 442.5,375.32 443.0,375.32 443.5,375.32 444.0,375.32 444.5,375.32 445.0,375.33 445.5,375.33 446.0,375.33 446.5,375.33 447.0,375.33 447.5,375.33 448.0,375.33 448.5,375.33 449.0,375.34 449.5,375.34 450.0,375.34 450.5,375.34 451.0,375.34 451.5,375.34 452.0,375.34"/></g>
</g>
<g fill="none" stroke-linejoin="round" stroke-linecap="butt">
<g stroke="#000" stroke-width="2.15"><polyline points="166.0,435.91 166.5,435.81 167.0,435.61 167.5,435.24 168.0,434.64 168.5,433.71 169.0,432.41 169.5,430.74 170.0,428.82 170.5,426.85 171.0,425.12 171.5,423.93 172.0,423.50 172.5,423.92 173.0,425.08 173.5,426.75 174.0,428.60 174.5,430.28 175.0,431.50 175.5,432.05 176.0,431.81 176.5,430.75 177.0,428.94 177.5,426.58 178.0,423.99 178.5,421.59 179.0,419.82 179.5,419.02 180.0,419.37 180.5,420.81 181.0,423.04 181.5,425.69 182.0,428.35 182.5,430.70 183.0,432.57 183.5,433.93 184.0,434.84 184.5,435.39 185.0,435.70 185.5,435.86 186.0,435.94"/><polyline points="191.5,435.91 192.0,435.81 192.5,435.61 193.0,435.24 193.5,434.62 194.0,433.66 194.5,432.26 195.0,430.38 195.5,428.08 196.0,425.51 196.5,422.94 197.0,420.73 197.5,419.23 198.0,418.70 198.5,419.23 199.0,420.73 199.5,422.94 200.0,425.51 200.5,428.08 201.0,430.38 201.5,432.26 202.0,433.66 202.5,434.62 203.0,435.24 203.5,435.61 204.0,435.81 204.5,435.91"/><polyline points="218.0,435.88 218.5,435.75 219.0,435.49 219.5,435.05 220.0,434.31 220.5,433.20 221.0,431.64 221.5,429.62 222.0,427.22 222.5,424.66 223.0,422.24 223.5,420.31 224.0,419.19 224.5,419.08 225.0,420.01 225.5,421.80 226.0,424.15 226.5,426.72 227.0,429.17 227.5,431.27 228.0,432.93 228.5,434.13 229.0,434.93 229.5,435.42 230.0,435.71 230.5,435.86 231.0,435.94"/><polyline points="236.0,435.94 236.5,435.88 237.0,435.76 237.5,435.56 238.0,435.23 238.5,434.74 239.0,434.05 239.5,433.19 240.0,432.18 240.5,431.12 241.0,430.15 241.5,429.42 242.0,429.03 242.5,429.08 243.0,429.54 243.5,430.33 244.0,431.33 244.5,432.38 245.0,433.37 245.5,434.20 246.0,434.85 246.5,435.30 247.0,435.60 247.5,435.79 248.0,435.89"/><polyline points="263.5,435.89 264.0,435.88 264.5,435.86 265.0,435.82 265.5,435.77 266.0,435.68 266.5,435.56 267.0,435.39 267.5,435.17 268.0,434.91 268.5,434.63 269.0,434.37 269.5,434.16 270.0,434.03 270.5,434.00 271.0,434.09 271.5,434.26 272.0,434.49 272.5,434.74 273.0,434.98 273.5,435.18 274.0,435.33 274.5,435.44 275.0,435.51 275.5,435.54 276.0,435.55 276.5,435.55 277.0,435.54 277.5,435.53 278.0,435.51 278.5,435.48 279.0,435.44 279.5,435.39 280.0,435.30 280.5,435.18 281.0,435.00 281.5,434.76 282.0,434.46 282.5,434.11 283.0,433.75 283.5,433.41 284.0,433.16 284.5,433.02 285.0,433.02 285.5,433.16 286.0,433.41 286.5,433.73 287.0,434.06 287.5,434.38 288.0,434.64 288.5,434.85 289.0,434.99 289.5,435.09 290.0,435.14 290.5,435.17 291.0,435.19 291.5,435.20 292.0,435.20 292.5,435.20 293.0,435.20 293.5,435.21 294.0,435.21 294.5,435.22 295.0,435.22 295.5,435.23 296.0,435.23 296.5,435.24 297.0,435.25 297.5,435.26 298.0,435.27 298.5,435.28 299.0,435.30 299.5,435.31 300.0,435.32 300.5,435.34 301.0,435.35 301.5,435.37 302.0,435.38 302.5,435.40 303.0,435.41 303.5,435.43 304.0,435.44 304.5,435.45 305.0,435.45 305.5,435.44 306.0,435.42 306.5,435.38 307.0,435.32 307.5,435.25 308.0,435.17 308.5,435.09 309.0,435.03 309.5,435.00 310.0,435.00 310.5,435.05 311.0,435.13 311.5,435.23 312.0,435.34 312.5,435.45 313.0,435.55 313.5,435.63 314.0,435.69 314.5,435.73 315.0,435.77 315.5,435.79 316.0,435.81 316.5,435.82 317.0,435.84 317.5,435.85 318.0,435.86 318.5,435.87 319.0,435.88 319.5,435.88"/><polyline points="337.0,435.90 337.5,435.88 338.0,435.85 338.5,435.82 339.0,435.77 339.5,435.70 340.0,435.62 340.5,435.50 341.0,435.36 341.5,435.19 342.0,435.01 342.5,434.83 343.0,434.68 343.5,434.56 344.0,434.49 344.5,434.48 345.0,434.52 345.5,434.60 346.0,434.69 346.5,434.78 347.0,434.86 347.5,434.92 348.0,434.96 348.5,434.99 349.0,435.00 349.5,435.00 350.0,435.00 350.5,435.00 351.0,434.99 351.5,434.98 352.0,434.97 352.5,434.96 353.0,434.95 353.5,434.94 354.0,434.94 354.5,434.96 355.0,435.00 355.5,435.06 356.0,435.13 356.5,435.22 357.0,435.32 357.5,435.41 358.0,435.50 358.5,435.57 359.0,435.64 359.5,435.70 360.0,435.74 360.5,435.78 361.0,435.81 361.5,435.84 362.0,435.87 362.5,435.89"/></g>
<g stroke="#f00" stroke-width="2.1"><polyline points="149.5,436.00 150.0,436.00 150.5,436.00 151.0,436.00 151.5,436.00 152.0,436.00 152.5,436.00 153.0,436.00 153.5,436.00 154.0,436.00 154.5,436.00 155.0,436.00 155.5,436.00 156.0,436.00 156.5,436.00 157.0,436.00 157.5,436.00 158.0,436.00 158.5,436.00 159.0,436.00 159.5,436.00 160.0,436.00 160.5,436.00 161.0,436.00 161.5,436.00 162.0,436.00 162.5,436.00 163.0,436.00 163.5,436.00 164.0,436.00 164.5,436.00 165.0,436.00 165.5,436.00 166.0,436.00 166.5,436.00 167.0,436.00 167.5,436.00 168.0,436.00 168.5,436.00 169.0,436.00 169.5,436.00 170.0,436.00 170.5,436.00 171.0,436.00 171.5,436.00 172.0,436.00 172.5,436.00 173.0,436.00 173.5,435.99 174.0,435.97 174.5,435.94 175.0,435.88 175.5,435.77 176.0,435.61 176.5,435.37 177.0,435.05 177.5,434.67 178.0,434.26 178.5,433.89 179.0,433.62 179.5,433.50 180.0,433.55 180.5,433.77 181.0,434.11 181.5,434.51 182.0,434.90 182.5,435.25 183.0,435.52 183.5,435.72 184.0,435.84 184.5,435.92 185.0,435.96 185.5,435.98 186.0,435.99 186.5,436.00 187.0,436.00 187.5,436.00 188.0,436.00 188.5,436.00 189.0,436.00 189.5,436.00 190.0,436.00 190.5,436.00 191.0,435.99 191.5,435.98 192.0,435.96 192.5,435.92 193.0,435.85 193.5,435.72 194.0,435.51 194.5,435.21 195.0,434.79 195.5,434.28 196.0,433.70 196.5,433.11 197.0,432.60 197.5,432.25 198.0,432.13 198.5,432.25 199.0,432.60 199.5,433.11 200.0,433.70 200.5,434.28 201.0,434.79 201.5,435.21 202.0,435.51 202.5,435.72 203.0,435.85 203.5,435.92 204.0,435.96 204.5,435.98 205.0,435.99 205.5,436.00 206.0,436.00 206.5,436.00 207.0,436.00 207.5,436.00 208.0,436.00 208.5,436.00 209.0,436.00 209.5,436.00 210.0,436.00 210.5,436.00 211.0,436.00 211.5,436.00 212.0,436.00 212.5,436.00 213.0,436.00 213.5,436.00 214.0,436.00 214.5,436.00 215.0,436.00 215.5,436.00 216.0,436.00 216.5,436.00 217.0,436.00 217.5,435.99 218.0,435.97 218.5,435.94 219.0,435.87 219.5,435.76 220.0,435.56 220.5,435.26 221.0,434.82 221.5,434.25 222.0,433.56 222.5,432.82 223.0,432.12 223.5,431.55 224.0,431.22 224.5,431.19 225.0,431.46 225.5,431.99 226.0,432.67 226.5,433.42 227.0,434.12 227.5,434.72 228.0,435.18 228.5,435.51 229.0,435.72 229.5,435.85 230.0,435.93 230.5,435.97 231.0,435.99 231.5,435.99 232.0,436.00 232.5,436.00 233.0,436.00 233.5,436.00 234.0,436.00 234.5,436.00 235.0,436.00 235.5,435.99 236.0,435.99 236.5,435.97 237.0,435.95 237.5,435.91 238.0,435.85 238.5,435.77 239.0,435.66 239.5,435.53 240.0,435.39 240.5,435.26 241.0,435.14 241.5,435.06 242.0,435.03 242.5,435.06 243.0,435.14 243.5,435.26 244.0,435.39 244.5,435.53 245.0,435.66 245.5,435.77 246.0,435.85 246.5,435.91 247.0,435.95 247.5,435.97 248.0,435.99 248.5,435.99 249.0,436.00 249.5,436.00 250.0,436.00 250.5,436.00 251.0,436.00 251.5,436.00 252.0,436.00 252.5,436.00 253.0,436.00 253.5,436.00 254.0,436.00 254.5,436.00 255.0,436.00 255.5,436.00 256.0,436.00 256.5,436.00 257.0,436.00 257.5,435.99 258.0,435.95 258.5,435.81 259.0,435.54 259.5,435.09 260.0,434.37 260.5,433.29 261.0,431.94 261.5,430.46 262.0,429.01 262.5,427.73 263.0,426.67 263.5,425.90 264.0,425.56 264.5,425.66 265.0,426.03 265.5,426.50 266.0,426.97 266.5,427.32 267.0,427.32 267.5,426.69 268.0,425.46 268.5,423.95 269.0,422.44 269.5,421.07 270.0,420.12 270.5,419.93 271.0,420.51 271.5,421.58 272.0,422.90 272.5,424.44 273.0,426.20 273.5,428.06 274.0,429.74 274.5,430.91 275.0,431.30 275.5,430.74 276.0,429.51 276.5,428.11 277.0,426.87 277.5,425.97 278.0,425.53 278.5,425.49 279.0,425.65 279.5,425.89 280.0,426.11 280.5,426.06 281.0,425.45 281.5,424.26 282.0,422.58 282.5,420.38 283.0,417.51 283.5,413.98 284.0,410.31 284.5,407.25 285.0,405.53 285.5,405.58 286.0,407.01 286.5,409.30 287.0,412.25 287.5,415.79 288.0,419.75 288.5,423.81 289.0,427.44 289.5,430.24 290.0,432.10 290.5,433.03 291.0,433.08 291.5,432.53 292.0,431.78 292.5,431.09 293.0,430.53 293.5,430.10 294.0,429.82 294.5,429.76 295.0,429.96 295.5,430.34 296.0,430.81 296.5,431.35 297.0,431.95 297.5,432.64 298.0,433.40 298.5,434.15 299.0,434.79 299.5,435.25 300.0,435.52 300.5,435.68 301.0,435.78 301.5,435.78 302.0,435.52 302.5,434.86 303.0,433.94 303.5,432.75 304.0,431.11 304.5,428.89 305.0,426.00 305.5,422.38 306.0,418.07 306.5,413.16 307.0,407.85 307.5,402.44 308.0,397.30 308.5,392.83 309.0,389.40 309.5,387.35 310.0,386.87 310.5,387.99 311.0,390.62 311.5,394.51 312.0,399.30 312.5,404.60 313.0,410.01 313.5,415.18 314.0,419.88 314.5,423.92 315.0,427.24 315.5,429.86 316.0,431.83 316.5,433.26 317.0,434.26 317.5,434.93 318.0,435.37 318.5,435.64 319.0,435.80 319.5,435.89 320.0,435.94 320.5,435.97 321.0,435.99 321.5,435.99 322.0,436.00 322.5,436.00 323.0,436.00 323.5,436.00 324.0,436.00 324.5,436.00 325.0,436.00 325.5,436.00 326.0,436.00 326.5,436.00 327.0,436.00 327.5,436.00 328.0,436.00 328.5,436.00 329.0,436.00 329.5,436.00 330.0,436.00 330.5,436.00 331.0,436.00 331.5,436.00 332.0,436.00 332.5,436.00 333.0,436.00 333.5,436.00 334.0,435.99 334.5,435.99 335.0,435.97 335.5,435.94 336.0,435.89 336.5,435.79 337.0,435.61 337.5,435.33 338.0,434.88 338.5,434.21 339.0,433.26 339.5,431.96 340.0,430.30 340.5,428.27 341.0,425.96 341.5,423.48 342.0,421.03 342.5,418.83 343.0,417.10 343.5,416.05 344.0,415.79 344.5,416.36 345.0,417.67 345.5,419.56 346.0,421.80 346.5,424.12 347.0,426.28 347.5,428.03 348.0,429.19 348.5,429.64 349.0,429.25 349.5,427.99 350.0,425.83 350.5,422.82 351.0,419.08 351.5,414.83 352.0,410.36 352.5,406.04 353.0,402.27 353.5,399.44 354.0,397.87 354.5,397.72 355.0,399.03 355.5,401.63 356.0,405.26 356.5,409.54 357.0,414.08 357.5,418.53 358.0,422.60 358.5,426.11 359.0,428.97 359.5,431.19 360.0,432.84 360.5,433.99 361.0,434.77 361.5,435.27 362.0,435.58 362.5,435.77 363.0,435.87 363.5,435.92 364.0,435.95 364.5,435.97 365.0,435.97 365.5,435.97 366.0,435.97 366.5,435.97 367.0,435.97 367.5,435.97 368.0,435.97 368.5,435.97 369.0,435.97 369.5,435.96 370.0,435.96 370.5,435.96 371.0,435.96 371.5,435.96 372.0,435.95 372.5,435.95 373.0,435.95 373.5,435.95 374.0,435.95 374.5,435.94 375.0,435.94 375.5,435.94 376.0,435.93 376.5,435.93 377.0,435.93 377.5,435.93 378.0,435.92 378.5,435.92 379.0,435.92 379.5,435.91 380.0,435.91 380.5,435.91 381.0,435.90 381.5,435.90 382.0,435.90 382.5,435.89 383.0,435.89 383.5,435.88 384.0,435.88 384.5,435.88 385.0,435.87 385.5,435.87 386.0,435.87 386.5,435.86 387.0,435.86 387.5,435.85 388.0,435.85 388.5,435.84 389.0,435.84 389.5,435.84 390.0,435.83 390.5,435.83 391.0,435.82 391.5,435.82 392.0,435.82 392.5,435.81 393.0,435.81 393.5,435.80 394.0,435.80 394.5,435.79 395.0,435.79 395.5,435.79 396.0,435.78 396.5,435.78 397.0,435.78 397.5,435.77 398.0,435.77 398.5,435.77 399.0,435.76 399.5,435.76 400.0,435.76 400.5,435.75 401.0,435.75 401.5,435.75 402.0,435.74 402.5,435.74 403.0,435.74 403.5,435.74 404.0,435.74 404.5,435.73 405.0,435.73 405.5,435.73 406.0,435.73 406.5,435.73 407.0,435.73 407.5,435.73 408.0,435.72 408.5,435.72 409.0,435.72 409.5,435.72 410.0,435.72 410.5,435.72 411.0,435.72 411.5,435.72 412.0,435.72 412.5,435.73 413.0,435.73 413.5,435.73 414.0,435.73 414.5,435.73 415.0,435.73 415.5,435.73 416.0,435.74 416.5,435.74 417.0,435.74 417.5,435.74 418.0,435.74 418.5,435.75 419.0,435.75 419.5,435.75 420.0,435.76 420.5,435.76 421.0,435.76 421.5,435.77 422.0,435.77 422.5,435.77 423.0,435.78 423.5,435.78 424.0,435.78 424.5,435.79 425.0,435.79 425.5,435.79 426.0,435.80 426.5,435.80 427.0,435.81 427.5,435.81 428.0,435.82 428.5,435.82 429.0,435.82 429.5,435.83 430.0,435.83 430.5,435.84 431.0,435.84 431.5,435.84 432.0,435.85 432.5,435.85 433.0,435.86 433.5,435.86 434.0,435.87 434.5,435.87 435.0,435.87 435.5,435.88 436.0,435.88 436.5,435.88 437.0,435.89 437.5,435.89 438.0,435.90 438.5,435.90 439.0,435.90 439.5,435.91 440.0,435.91 440.5,435.91 441.0,435.92 441.5,435.92 442.0,435.92 442.5,435.93 443.0,435.93 443.5,435.93 444.0,435.93 444.5,435.94 445.0,435.94 445.5,435.94 446.0,435.95 446.5,435.95 447.0,435.95 447.5,435.95 448.0,435.95 448.5,435.96 449.0,435.96 449.5,435.96 450.0,435.96 450.5,435.96 451.0,435.97 451.5,435.97 452.0,435.97 452.5,435.97 453.0,435.97 453.5,435.97 454.0,435.98 454.5,435.98 455.0,435.98 455.5,435.98"/></g>
</g>
<g fill="none" stroke-linejoin="round" stroke-linecap="butt">
<g stroke="#000" stroke-width="2.15"><polyline points="165.0,496.57 165.5,496.50 166.0,496.40 166.5,496.23 167.0,495.84 167.5,495.07 168.0,493.93 168.5,492.61 169.0,491.22 169.5,489.90 170.0,488.86 170.5,488.15 171.0,487.69 171.5,487.42 172.0,487.29 172.5,487.22 173.0,487.16 173.5,486.98 174.0,486.47 174.5,485.47 175.0,484.21 175.5,483.04 176.0,482.35 176.5,482.32 177.0,482.79 177.5,483.50 178.0,484.35 178.5,485.29 179.0,486.25 179.5,487.21 180.0,488.16 180.5,489.11 181.0,490.04 181.5,490.96 182.0,491.89 182.5,492.81 183.0,493.66 183.5,494.34 184.0,494.80 184.5,495.04 185.0,495.10 185.5,495.07 186.0,495.01 186.5,494.94 187.0,494.86 187.5,494.77 188.0,494.71 188.5,494.70 189.0,494.77 189.5,494.90 190.0,495.05 190.5,495.20 191.0,495.35 191.5,495.48 192.0,495.60 192.5,495.69 193.0,495.77 193.5,495.83 194.0,495.89 194.5,495.94 195.0,495.99 195.5,496.02 196.0,496.05 196.5,496.07 197.0,496.09 197.5,496.10 198.0,496.12 198.5,496.13 199.0,496.14 199.5,496.18 200.0,496.30 200.5,496.50 201.0,496.62"/><polyline points="204.5,496.54 205.0,496.44 205.5,496.28 206.0,496.01 206.5,495.61 207.0,495.05 207.5,494.29 208.0,493.33 208.5,492.22 209.0,491.01 209.5,489.82 210.0,488.78 210.5,488.01 211.0,487.62 211.5,487.66 212.0,488.13 212.5,488.96 213.0,490.04 213.5,491.23 214.0,492.40 214.5,493.43 215.0,494.24 215.5,494.78 216.0,495.01 216.5,494.93 217.0,494.56 217.5,493.93 218.0,493.11 218.5,492.23 219.0,491.42 219.5,490.83 220.0,490.56 220.5,490.68 221.0,491.16 221.5,491.90 222.0,492.79 222.5,493.68 223.0,494.44 223.5,495.00 224.0,495.29 224.5,495.31 225.0,495.04 225.5,494.52 226.0,493.77 226.5,492.88 227.0,491.94 227.5,491.07 228.0,490.42 228.5,490.08 229.0,490.12 229.5,490.52 230.0,491.23 230.5,492.12 231.0,493.08 231.5,493.99 232.0,494.78 232.5,495.39 233.0,495.85 233.5,496.15 234.0,496.34 234.5,496.45 235.0,496.49 235.5,496.50 236.0,496.46 236.5,496.37 237.0,496.22 237.5,495.99 238.0,495.65 238.5,495.19 239.0,494.63 239.5,493.98 240.0,493.31 240.5,492.71 241.0,492.25 241.5,492.01 242.0,492.03 242.5,492.31 243.0,492.79 243.5,493.40 244.0,494.06 244.5,494.69 245.0,495.22 245.5,495.64 246.0,495.95 246.5,496.16 247.0,496.29 247.5,496.36 248.0,496.40 248.5,496.41 249.0,496.41 249.5,496.41 250.0,496.40 250.5,496.39 251.0,496.37 251.5,496.34 252.0,496.30 252.5,496.25 253.0,496.18 253.5,496.10 254.0,496.00 254.5,495.90 255.0,495.81 255.5,495.73 256.0,495.68 256.5,495.67 257.0,495.69 257.5,495.74 258.0,495.82 258.5,495.90 259.0,495.98 259.5,496.05 260.0,496.10 260.5,496.14 261.0,496.16 261.5,496.17 262.0,496.17 262.5,496.17 263.0,496.16 263.5,496.16 264.0,496.15 264.5,496.14 265.0,496.13 265.5,496.12 266.0,496.11 266.5,496.10 267.0,496.10 267.5,496.09 268.0,496.08 268.5,496.07 269.0,496.06 269.5,496.05 270.0,496.05 270.5,496.04 271.0,496.03 271.5,496.03 272.0,496.02 272.5,496.01 273.0,496.01 273.5,496.00 274.0,495.99 274.5,495.99 275.0,495.98 275.5,495.98 276.0,495.98 276.5,495.97 277.0,495.97 277.5,495.96 278.0,495.96 278.5,495.96 279.0,495.96 279.5,495.95 280.0,495.95 280.5,495.95 281.0,495.95 281.5,495.95 282.0,495.95 282.5,495.95 283.0,495.95 283.5,495.95 284.0,495.95 284.5,495.95 285.0,495.96 285.5,495.96 286.0,495.96 286.5,495.96 287.0,495.97 287.5,495.97 288.0,495.97 288.5,495.96 289.0,495.95 289.5,495.93 290.0,495.89 290.5,495.84 291.0,495.77 291.5,495.69 292.0,495.60 292.5,495.51 293.0,495.43 293.5,495.38 294.0,495.37 294.5,495.40 295.0,495.46 295.5,495.55 296.0,495.66 296.5,495.76 297.0,495.86 297.5,495.94 298.0,496.01 298.5,496.06 299.0,496.10 299.5,496.12 300.0,496.14 300.5,496.15 301.0,496.17 301.5,496.18 302.0,496.19 302.5,496.20 303.0,496.21 303.5,496.22 304.0,496.23 304.5,496.24 305.0,496.24 305.5,496.25 306.0,496.26 306.5,496.27 307.0,496.28 307.5,496.29 308.0,496.30 308.5,496.31 309.0,496.32 309.5,496.33 310.0,496.34 310.5,496.35 311.0,496.36 311.5,496.37 312.0,496.37 312.5,496.38 313.0,496.39 313.5,496.40 314.0,496.41 314.5,496.41 315.0,496.42 315.5,496.43 316.0,496.44 316.5,496.45 317.0,496.45 317.5,496.46 318.0,496.47 318.5,496.47 319.0,496.48 319.5,496.49 320.0,496.49 320.5,496.50 321.0,496.50 321.5,496.51 322.0,496.52 322.5,496.52 323.0,496.53 323.5,496.53"/><polyline points="337.0,496.54 337.5,496.53 338.0,496.51 338.5,496.50 339.0,496.48 339.5,496.45 340.0,496.43 340.5,496.40 341.0,496.37 341.5,496.34 342.0,496.31 342.5,496.27 343.0,496.23 343.5,496.19 344.0,496.16 344.5,496.12 345.0,496.08 345.5,496.04 346.0,496.01 346.5,495.97 347.0,495.94 347.5,495.92 348.0,495.89 348.5,495.88 349.0,495.86 349.5,495.86 350.0,495.85 350.5,495.86 351.0,495.86 351.5,495.88 352.0,495.90 352.5,495.92 353.0,495.95 353.5,495.98 354.0,496.01 354.5,496.05 355.0,496.09 355.5,496.13 356.0,496.17 356.5,496.21 357.0,496.25 357.5,496.28 358.0,496.32 358.5,496.36 359.0,496.39 359.5,496.42 360.0,496.45 360.5,496.48 361.0,496.50 361.5,496.52 362.0,496.54"/></g>
<g stroke="#f00" stroke-width="2.1"><polyline points="100.0,496.65 100.5,496.65 101.0,496.65 101.5,496.65 102.0,496.65 102.5,496.65 103.0,496.65 103.5,496.65 104.0,496.65 104.5,496.65 105.0,496.65 105.5,496.65 106.0,496.65 106.5,496.65 107.0,496.65 107.5,496.65 108.0,496.65 108.5,496.65 109.0,496.65 109.5,496.65 110.0,496.65 110.5,496.65 111.0,496.65 111.5,496.65 112.0,496.65 112.5,496.65 113.0,496.65 113.5,496.65 114.0,496.65 114.5,496.65 115.0,496.65 115.5,496.65 116.0,496.65 116.5,496.65 117.0,496.65 117.5,496.65 118.0,496.65 118.5,496.65 119.0,496.65 119.5,496.65 120.0,496.65 120.5,496.65 121.0,496.65 121.5,496.65 122.0,496.65 122.5,496.65 123.0,496.65 123.5,496.65 124.0,496.65 124.5,496.65 125.0,496.65 125.5,496.65 126.0,496.65 126.5,496.65 127.0,496.65 127.5,496.65 128.0,496.65 128.5,496.65 129.0,496.65 129.5,496.65 130.0,496.65 130.5,496.65 131.0,496.65 131.5,496.65 132.0,496.65 132.5,496.65 133.0,496.65 133.5,496.65 134.0,496.65 134.5,496.65 135.0,496.65 135.5,496.65 136.0,496.65 136.5,496.65 137.0,496.65 137.5,496.65 138.0,496.65 138.5,496.65 139.0,496.65 139.5,496.65 140.0,496.65 140.5,496.65 141.0,496.65 141.5,496.65 142.0,496.65 142.5,496.65 143.0,496.65 143.5,496.65 144.0,496.65 144.5,496.65 145.0,496.65 145.5,496.65 146.0,496.65 146.5,496.65 147.0,496.65 147.5,496.65 148.0,496.65 148.5,496.65 149.0,496.65 149.5,496.65 150.0,496.65 150.5,496.65 151.0,496.65 151.5,496.65 152.0,496.65 152.5,496.65 153.0,496.65 153.5,496.65 154.0,496.65 154.5,496.65 155.0,496.65 155.5,496.65 156.0,496.65 156.5,496.65 157.0,496.65 157.5,496.65 158.0,496.65 158.5,496.65 159.0,496.65 159.5,496.65 160.0,496.65 160.5,496.65 161.0,496.65 161.5,496.65 162.0,496.65 162.5,496.65 163.0,496.65 163.5,496.65 164.0,496.64 164.5,496.64 165.0,496.64 165.5,496.63 166.0,496.62 166.5,496.61 167.0,496.59 167.5,496.57 168.0,496.55 168.5,496.51 169.0,496.47 169.5,496.41 170.0,496.35 170.5,496.27 171.0,496.18 171.5,496.08 172.0,495.97 172.5,495.85 173.0,495.72 173.5,495.59 174.0,495.45 174.5,495.32 175.0,495.20 175.5,495.09 176.0,495.00 176.5,494.93 177.0,494.88 177.5,494.86 178.0,494.87 178.5,494.91 179.0,494.97 179.5,495.05 180.0,495.15 180.5,495.27 181.0,495.40 181.5,495.53 182.0,495.66 182.5,495.78 183.0,495.89 183.5,495.97 184.0,496.03 184.5,496.05 185.0,496.03 185.5,495.97 186.0,495.88 186.5,495.76 187.0,495.64 187.5,495.55 188.0,495.49 188.5,495.49 189.0,495.54 189.5,495.66 190.0,495.81 190.5,495.97 191.0,496.14 191.5,496.28 192.0,496.40 192.5,496.49 193.0,496.56 193.5,496.60 194.0,496.62 194.5,496.64 195.0,496.64 195.5,496.65 196.0,496.65 196.5,496.65 197.0,496.65 197.5,496.65 198.0,496.65 198.5,496.65 199.0,496.65 199.5,496.65 200.0,496.65 200.5,496.65 201.0,496.65 201.5,496.65 202.0,496.65 202.5,496.64 203.0,496.64 203.5,496.62 204.0,496.59 204.5,496.55 205.0,496.47 205.5,496.35 206.0,496.19 206.5,495.98 207.0,495.72 207.5,495.44 208.0,495.16 208.5,494.92 209.0,494.77 209.5,494.71 210.0,494.77 210.5,494.92 211.0,495.16 211.5,495.44 212.0,495.72 212.5,495.98 213.0,496.19 213.5,496.35 214.0,496.47 214.5,496.55 215.0,496.59 215.5,496.62 216.0,496.64 216.5,496.64 217.0,496.65 217.5,496.65 218.0,496.65 218.5,496.65 219.0,496.65 219.5,496.65 220.0,496.65 220.5,496.65 221.0,496.65 221.5,496.65 222.0,496.65 222.5,496.65 223.0,496.65 223.5,496.65 224.0,496.65 224.5,496.65 225.0,496.65 225.5,496.65 226.0,496.64 226.5,496.63 227.0,496.61 227.5,496.57 228.0,496.51 228.5,496.41 229.0,496.26 229.5,496.07 230.0,495.83 230.5,495.55 231.0,495.27 231.5,495.01 232.0,494.82 232.5,494.72 233.0,494.73 233.5,494.85 234.0,495.06 234.5,495.32 235.0,495.61 235.5,495.88 236.0,496.11 236.5,496.30 237.0,496.43 237.5,496.52 238.0,496.58 238.5,496.61 239.0,496.63 239.5,496.64 240.0,496.64 240.5,496.64 241.0,496.64 241.5,496.63 242.0,496.61 242.5,496.57 243.0,496.52 243.5,496.43 244.0,496.31 244.5,496.15 245.0,495.95 245.5,495.74 246.0,495.53 246.5,495.36 247.0,495.24 247.5,495.20 248.0,495.30 248.5,495.68 249.0,496.21 249.5,496.44 250.0,496.34 250.5,496.08 251.0,495.70 251.5,495.21 252.0,494.68 252.5,494.18 253.0,493.73 253.5,493.36 254.0,493.13 254.5,493.13 255.0,493.39 255.5,493.83 256.0,494.34 256.5,494.85 257.0,495.35 257.5,495.76 258.0,495.94 258.5,495.78 259.0,495.28 259.5,494.52 260.0,493.54 260.5,492.47 261.0,491.48 261.5,490.63 262.0,489.90 262.5,489.27 263.0,488.79 263.5,488.47 264.0,488.28 264.5,488.18 265.0,488.10 265.5,488.01 266.0,487.87 266.5,487.65 267.0,487.36 267.5,487.05 268.0,486.80 268.5,486.67 269.0,486.75 269.5,487.05 270.0,487.52 270.5,488.08 271.0,488.67 271.5,489.30 272.0,489.94 272.5,490.52 273.0,490.88 273.5,490.88 274.0,490.48 274.5,489.73 275.0,488.76 275.5,487.69 276.0,486.64 276.5,485.68 277.0,484.76 277.5,483.85 278.0,482.95 278.5,482.16 279.0,481.57 279.5,481.28 280.0,481.37 280.5,481.83 281.0,482.55 281.5,483.35 282.0,484.12 282.5,484.83 283.0,485.46 283.5,485.86 284.0,485.74 284.5,484.87 285.0,483.31 285.5,481.49 286.0,479.76 286.5,478.21 287.0,476.85 287.5,475.83 288.0,475.33 288.5,475.32 289.0,475.65 289.5,476.28 290.0,477.49 290.5,479.59 291.0,482.30 291.5,484.85 292.0,486.64 292.5,487.41 293.0,487.37 293.5,486.91 294.0,486.30 294.5,485.67 295.0,485.13 295.5,484.74 296.0,484.49 296.5,484.26 297.0,483.88 297.5,483.20 298.0,482.19 298.5,481.00 299.0,479.86 299.5,479.00 300.0,478.64 300.5,478.96 301.0,479.96 301.5,481.42 302.0,483.04 302.5,484.63 303.0,486.20 303.5,487.79 304.0,489.29 304.5,490.47 305.0,491.16 305.5,491.32 306.0,491.10 306.5,490.68 307.0,490.17 307.5,489.62 308.0,489.00 308.5,488.31 309.0,487.62 309.5,487.07 310.0,486.76 310.5,486.74 311.0,486.98 311.5,487.36 312.0,487.76 312.5,488.11 313.0,488.38 313.5,488.59 314.0,488.67 314.5,488.33 315.0,487.22 315.5,485.33 316.0,483.03 316.5,480.66 317.0,478.28 317.5,475.87 318.0,473.67 318.5,472.10 319.0,471.57 319.5,472.33 320.0,474.27 320.5,477.16 321.0,480.98 321.5,485.56 322.0,489.89 322.5,493.11 323.0,495.08 323.5,496.04 324.0,496.44 324.5,496.60 325.0,496.64 325.5,496.65 326.0,496.65 326.5,496.65 327.0,496.65 327.5,496.65 328.0,496.65 328.5,496.65 329.0,496.65 329.5,496.65 330.0,496.65 330.5,496.65 331.0,496.65 331.5,496.65 332.0,496.65 332.5,496.65 333.0,496.64 333.5,496.61 334.0,496.55 334.5,496.45 335.0,496.32 335.5,496.11 336.0,495.76 336.5,495.20 337.0,494.46 337.5,493.58 338.0,492.54 338.5,491.34 339.0,490.02 339.5,488.62 340.0,487.18 340.5,485.68 341.0,484.16 341.5,482.64 342.0,481.13 342.5,479.69 343.0,478.41 343.5,477.38 344.0,476.58 344.5,476.06 345.0,475.97 345.5,476.39 346.0,477.20 346.5,478.23 347.0,479.42 347.5,480.73 348.0,481.96 348.5,482.79 349.0,482.94 349.5,482.27 350.0,481.01 350.5,479.57 351.0,478.31 351.5,477.32 352.0,476.54 352.5,476.03 353.0,475.91 353.5,476.22 354.0,476.87 354.5,477.73 355.0,478.77 355.5,479.99 356.0,481.30 356.5,482.62 357.0,483.91 357.5,485.17 358.0,486.42 358.5,487.63 359.0,488.81 359.5,489.95 360.0,491.06 360.5,492.16 361.0,493.25 361.5,494.24 362.0,495.03 362.5,495.59 363.0,495.97 363.5,496.18 364.0,496.27 364.5,496.31 365.0,496.33 365.5,496.35 366.0,496.39 366.5,496.45 367.0,496.49 367.5,496.49 368.0,496.48 368.5,496.47 369.0,496.46 369.5,496.45 370.0,496.44 370.5,496.44 371.0,496.43 371.5,496.42 372.0,496.41 372.5,496.40 373.0,496.39 373.5,496.38 374.0,496.37 374.5,496.36 375.0,496.35 375.5,496.34 376.0,496.33 376.5,496.32 377.0,496.31 377.5,496.30 378.0,496.29 378.5,496.28 379.0,496.27 379.5,496.26 380.0,496.25 380.5,496.24 381.0,496.23 381.5,496.22 382.0,496.22 382.5,496.21 383.0,496.20 383.5,496.20 384.0,496.19 384.5,496.18 385.0,496.18 385.5,496.17 386.0,496.17 386.5,496.16 387.0,496.16 387.5,496.16 388.0,496.15 388.5,496.15 389.0,496.15 389.5,496.15 390.0,496.15 390.5,496.15 391.0,496.15 391.5,496.15 392.0,496.15 392.5,496.16 393.0,496.16 393.5,496.16 394.0,496.17 394.5,496.17 395.0,496.18 395.5,496.18 396.0,496.19 396.5,496.20 397.0,496.20 397.5,496.21 398.0,496.22 398.5,496.22 399.0,496.23 399.5,496.24 400.0,496.25 400.5,496.26 401.0,496.27 401.5,496.28 402.0,496.29 402.5,496.30 403.0,496.31 403.5,496.32 404.0,496.33 404.5,496.34 405.0,496.35 405.5,496.36 406.0,496.37 406.5,496.38 407.0,496.39 407.5,496.40 408.0,496.41 408.5,496.42 409.0,496.43 409.5,496.44 410.0,496.44 410.5,496.45 411.0,496.46 411.5,496.47 412.0,496.48 412.5,496.49 413.0,496.50 413.5,496.50 414.0,496.51 414.5,496.52 415.0,496.53 415.5,496.53 416.0,496.54 416.5,496.54 417.0,496.55 417.5,496.56 418.0,496.56 418.5,496.57 419.0,496.57 419.5,496.58 420.0,496.58 420.5,496.59 421.0,496.59 421.5,496.59 422.0,496.60 422.5,496.60 423.0,496.61 423.5,496.61 424.0,496.61 424.5,496.61 425.0,496.62 425.5,496.62 426.0,496.62 426.5,496.62 427.0,496.63 427.5,496.63 428.0,496.63 428.5,496.63 429.0,496.63 429.5,496.63 430.0,496.64 430.5,496.64 431.0,496.64 431.5,496.64 432.0,496.64 432.5,496.64 433.0,496.64 433.5,496.64 434.0,496.64 434.5,496.64 435.0,496.64 435.5,496.64 436.0,496.65 436.5,496.65 437.0,496.65 437.5,496.65 438.0,496.65 438.5,496.65 439.0,496.65 439.5,496.65 440.0,496.65 440.5,496.65 441.0,496.65 441.5,496.65 442.0,496.65 442.5,496.65 443.0,496.65 443.5,496.65 444.0,496.65 444.5,496.65 445.0,496.65 445.5,496.65 446.0,496.65 446.5,496.65 447.0,496.65 447.5,496.65 448.0,496.65 448.5,496.65 449.0,496.65 449.5,496.65 450.0,496.65 450.5,496.65 451.0,496.65 451.5,496.65"/></g>
</g>
<path d="M319.6 11.7V496.9" stroke="#000" stroke-width="2" stroke-dasharray="7 8.35" stroke-dashoffset="-2.1" fill="none"/>
<path d="M411 24.9H460.5" stroke="#000" stroke-width="1.9"/>
<path d="M411 48.1H460.5" stroke="#f00" stroke-width="1.9"/>
<text x="465.1" y="31.8" font-size="18.8" textLength="19" lengthAdjust="spacingAndGlyphs">2s</text>
<text x="465.1" y="54.9" font-size="18.8" textLength="21.2" lengthAdjust="spacingAndGlyphs">2p</text>
<path d="M412.2 86.0H461.9" stroke="#000" stroke-width="1.9"/>
<path d="M412.2 109.3H461.9" stroke="#f00" stroke-width="1.9"/>
<text x="466.5" y="92.8" font-size="18.8" textLength="19" lengthAdjust="spacingAndGlyphs">2s</text>
<text x="466.5" y="116.0" font-size="18.8" textLength="21.2" lengthAdjust="spacingAndGlyphs">2p</text>
<path d="M411 145.0H460.5" stroke="#000" stroke-width="1.9"/>
<path d="M411 167.9H460.5" stroke="#f00" stroke-width="1.9"/>
<text x="465.1" y="151.8" font-size="18.8" textLength="19" lengthAdjust="spacingAndGlyphs">3s</text>
<text x="465.1" y="174.9" font-size="18.8" textLength="21.2" lengthAdjust="spacingAndGlyphs">3p</text>
<path d="M412.2 207.1H461.7" stroke="#000" stroke-width="1.9"/>
<path d="M412.2 230.2H461.7" stroke="#f00" stroke-width="1.9"/>
<text x="466.3" y="213.4" font-size="18.8" textLength="19" lengthAdjust="spacingAndGlyphs">3s</text>
<text x="466.3" y="237.0" font-size="18.8" textLength="21.2" lengthAdjust="spacingAndGlyphs">3p</text>
<path d="M410.1 267.0H459.6" stroke="#000" stroke-width="1.9"/>
<path d="M410.1 290.3H459.6" stroke="#f00" stroke-width="1.9"/>
<text x="464.2" y="273.4" font-size="18.8" textLength="19" lengthAdjust="spacingAndGlyphs">3s</text>
<text x="464.2" y="297.0" font-size="18.8" textLength="21.2" lengthAdjust="spacingAndGlyphs">3p</text>
<path d="M411.6 329.1H461.1" stroke="#000" stroke-width="1.9"/>
<path d="M411.6 352.3H461.1" stroke="#f00" stroke-width="1.9"/>
<text x="465.7" y="335.4" font-size="18.8" textLength="19" lengthAdjust="spacingAndGlyphs">3s</text>
<text x="465.7" y="359.0" font-size="18.8" textLength="21.2" lengthAdjust="spacingAndGlyphs">3p</text>
<path d="M410.1 388.9H459.4" stroke="#000" stroke-width="1.9"/>
<path d="M410.1 412.1H459.4" stroke="#f00" stroke-width="1.9"/>
<text x="464.0" y="395.4" font-size="18.8" textLength="19" lengthAdjust="spacingAndGlyphs">3s</text>
<text x="464.0" y="418.6" font-size="18.8" textLength="21.2" lengthAdjust="spacingAndGlyphs">3p</text>
<path d="M411.6 450.9H460.7" stroke="#000" stroke-width="1.9"/>
<path d="M411.6 474.2H460.7" stroke="#f00" stroke-width="1.9"/>
<text x="465.3" y="457.3" font-size="18.8" textLength="19" lengthAdjust="spacingAndGlyphs">3s</text>
<text x="465.3" y="480.5" font-size="18.8" textLength="21.2" lengthAdjust="spacingAndGlyphs">3p</text>
<text x="74.2" y="32.0" font-size="16.8" textLength="230.7" lengthAdjust="spacingAndGlyphs">O before adsorption in IPETC</text>
<text x="74.2" y="96.0" font-size="16.8" textLength="213.4" lengthAdjust="spacingAndGlyphs">O after adsorption in IPETC</text>
<text x="74.2" y="148.2" font-size="16.8" textLength="296.9" lengthAdjust="spacingAndGlyphs">S before adsorption in elemental sulfur</text>
<text x="76.3" y="209.4" font-size="16.8" textLength="282.2" lengthAdjust="spacingAndGlyphs">S after adsorption in elemental sulfur</text>
<text x="72.9" y="282.8" font-size="16.8" textLength="226.2" lengthAdjust="spacingAndGlyphs">S before adsorption in IPETC</text>
<text x="72.9" y="342.8" font-size="16.8" textLength="212.9" lengthAdjust="spacingAndGlyphs">S after adsorption in IPETC</text>
<text x="73.5" y="389.5" font-size="16.8" textLength="295.3" lengthAdjust="spacingAndGlyphs">S before adsorption in elemental sulfur</text>
<text x="72.9" y="461.5" font-size="16.8" textLength="282.1" lengthAdjust="spacingAndGlyphs">S after adsorption in elemental sulfur</text>
<text x="40.8" y="77.5" font-size="16.2" textLength="21.8" lengthAdjust="spacingAndGlyphs">0.0</text>
<text x="40.8" y="54.5" font-size="16.2" textLength="21.8" lengthAdjust="spacingAndGlyphs">1.5</text>
<text x="40.8" y="31.5" font-size="16.2" textLength="21.8" lengthAdjust="spacingAndGlyphs">3.0</text>
<text x="40.8" y="138.2" font-size="16.2" textLength="21.8" lengthAdjust="spacingAndGlyphs">0.0</text>
<text x="40.8" y="115.2" font-size="16.2" textLength="21.8" lengthAdjust="spacingAndGlyphs">1.5</text>
<text x="40.8" y="92.2" font-size="16.2" textLength="21.8" lengthAdjust="spacingAndGlyphs">3.0</text>
<text x="54.8" y="198.8" font-size="16.2" textLength="7.8" lengthAdjust="spacingAndGlyphs">0</text>
<text x="54.8" y="176.1" font-size="16.2" textLength="7.8" lengthAdjust="spacingAndGlyphs">1</text>
<text x="54.8" y="153.4" font-size="16.2" textLength="7.8" lengthAdjust="spacingAndGlyphs">2</text>
<text x="54.8" y="259.5" font-size="16.2" textLength="7.8" lengthAdjust="spacingAndGlyphs">0</text>
<text x="54.8" y="236.8" font-size="16.2" textLength="7.8" lengthAdjust="spacingAndGlyphs">1</text>
<text x="54.8" y="214.1" font-size="16.2" textLength="7.8" lengthAdjust="spacingAndGlyphs">2</text>
<text x="40.8" y="320.1" font-size="16.2" textLength="21.8" lengthAdjust="spacingAndGlyphs">0.0</text>
<text x="40.8" y="297.1" font-size="16.2" textLength="21.8" lengthAdjust="spacingAndGlyphs">1.5</text>
<text x="40.8" y="274.1" font-size="16.2" textLength="21.8" lengthAdjust="spacingAndGlyphs">3.0</text>
<text x="40.8" y="380.8" font-size="16.2" textLength="21.8" lengthAdjust="spacingAndGlyphs">0.0</text>
<text x="40.8" y="357.8" font-size="16.2" textLength="21.8" lengthAdjust="spacingAndGlyphs">1.5</text>
<text x="40.8" y="334.7" font-size="16.2" textLength="21.8" lengthAdjust="spacingAndGlyphs">3.0</text>
<text x="54.8" y="441.4" font-size="16.2" textLength="7.8" lengthAdjust="spacingAndGlyphs">0</text>
<text x="54.8" y="417.8" font-size="16.2" textLength="7.8" lengthAdjust="spacingAndGlyphs">1</text>
<text x="54.8" y="394.2" font-size="16.2" textLength="7.8" lengthAdjust="spacingAndGlyphs">2</text>
<text x="54.8" y="502.1" font-size="16.2" textLength="7.8" lengthAdjust="spacingAndGlyphs">0</text>
<text x="54.8" y="478.8" font-size="16.2" textLength="7.8" lengthAdjust="spacingAndGlyphs">1</text>
<text x="54.8" y="455.5" font-size="16.2" textLength="7.8" lengthAdjust="spacingAndGlyphs">2</text>
<text x="77.8" y="511.6" font-size="15" textLength="20.5" lengthAdjust="spacingAndGlyphs">-25</text>
<text x="122.4" y="511.6" font-size="15" textLength="22.7" lengthAdjust="spacingAndGlyphs">-20</text>
<text x="169.2" y="511.6" font-size="15" textLength="22.0" lengthAdjust="spacingAndGlyphs">-15</text>
<text x="215.8" y="511.6" font-size="15" textLength="23.2" lengthAdjust="spacingAndGlyphs">-10</text>
<text x="266.8" y="511.6" font-size="15" textLength="13.3" lengthAdjust="spacingAndGlyphs">-5</text>
<text x="316.2" y="511.6" font-size="15" textLength="8.0" lengthAdjust="spacingAndGlyphs">0</text>
<text x="361.5" y="511.6" font-size="15" textLength="8.3" lengthAdjust="spacingAndGlyphs">5</text>
<text x="404.8" y="511.6" font-size="15" textLength="16.5" lengthAdjust="spacingAndGlyphs">10</text>
<text x="450.6" y="511.6" font-size="15" textLength="15.7" lengthAdjust="spacingAndGlyphs">15</text>
<text x="495.8" y="511.6" font-size="15" textLength="17.1" lengthAdjust="spacingAndGlyphs">20</text>
<text x="233.0" y="540.1" font-size="19.6" textLength="103.8" lengthAdjust="spacingAndGlyphs">Energy (eV)</text>
<text transform="translate(21.0 383.0) rotate(-90)" x="0" y="0" font-size="19.8" textLength="246.3" lengthAdjust="spacingAndGlyphs">Density of states (electrons/eV)</text>
</svg>
</body></html>
